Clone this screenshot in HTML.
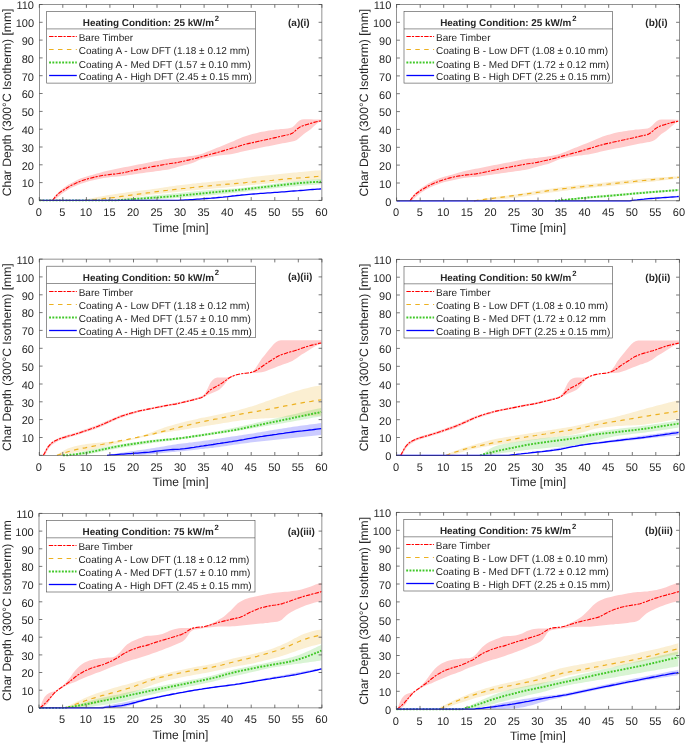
<!DOCTYPE html>
<html><head><meta charset="utf-8"><style>
html,body{margin:0;padding:0;background:#fff;}
svg{display:block;font-family:'Liberation Sans', Arial, sans-serif;text-rendering:geometricPrecision;}
</style></head><body>
<svg width="685" height="744" viewBox="0 0 685 744">
<rect width="685" height="744" fill="#fff"/>
<clipPath id="cp00"><rect x="39.3" y="4.5" width="282.6" height="195.9"/></clipPath>
<clipPath id="cl00"><rect x="38.8" y="3" width="283.6" height="198.9"/></clipPath>
<g clip-path="url(#cp00)">
<polygon points="52.2,200.4 54.5,196.7 56.9,193.7 59.2,191.5 61.6,189.5 63.9,187.7 66.3,186.1 68.6,184.6 71,183.2 73.4,181.9 75.7,180.7 78.1,179.6 80.4,178.6 82.8,177.7 85.1,177 87.5,176.2 89.8,175.6 92.2,174.9 94.5,174.3 96.9,173.6 99.3,172.9 101.6,172.2 104,171.6 106.3,171 108.7,170.4 111,169.9 113.4,169.4 115.7,169 118.1,168.5 120.5,168.1 122.8,167.6 125.2,167.1 127.5,166.7 129.9,166.2 132.2,165.7 134.6,165.3 136.9,164.8 139.3,164.3 141.6,163.9 144,163.4 146.4,162.9 148.7,162.5 151.1,162 153.4,161.6 155.8,161.1 158.1,160.7 160.5,160.2 162.8,159.8 165.2,159.3 167.6,158.9 169.9,158.5 172.3,158.2 174.6,158 177,157.8 179.3,157.6 181.7,157.3 184,157 186.4,156.7 188.7,156.3 191.1,156 193.5,155.7 195.8,155.2 198.2,154.8 200.5,154.2 202.9,153.4 205.2,152.5 207.6,151.6 209.9,150.7 212.3,149.7 214.7,148.8 217,147.8 219.4,146.9 221.7,145.9 224.1,145 226.4,144 228.8,143.1 231.1,142.1 233.5,141.2 235.8,140.1 238.2,139.1 240.6,138.1 242.9,137.1 245.3,136.2 247.6,135.4 250,134.8 252.3,134.1 254.7,133.5 257,132.9 259.4,132.3 261.8,131.8 264.1,131.4 266.5,131 268.8,130.6 271.2,130.2 273.5,129.9 275.9,129.6 278.2,129.4 280.6,129.1 282.9,128.9 285.3,128.7 287.7,128.5 290,128.1 292.4,127.2 294.7,125.2 297.1,122.6 299.4,120.6 301.8,119.6 304.1,119.3 306.5,119.3 308.9,119.3 311.2,119.3 313.6,119.4 315.9,119.4 318.3,119.4 320.6,119.5 321.1,119.5 321.1,120.8 320.4,121.4 318,122.8 315.7,124.8 313.3,126.8 311,128.9 308.6,130.7 306.3,132.2 303.9,133.9 301.6,135.9 299.2,138.1 296.8,139.9 294.5,141 292.1,141.6 289.8,142 287.4,142.4 285.1,142.9 282.7,143.3 280.4,143.8 278,144.3 275.6,144.7 273.3,145.2 270.9,145.7 268.6,146.2 266.2,146.6 263.9,147.1 261.5,147.6 259.2,148 256.8,148.5 254.5,149 252.1,149.4 249.7,149.9 247.4,150.4 245,150.9 242.7,151.5 240.3,152.1 238,152.7 235.6,153.2 233.3,153.8 230.9,154.2 228.5,154.5 226.2,154.8 223.8,155 221.5,155.3 219.1,155.6 216.8,155.9 214.4,156.3 212.1,156.8 209.7,157.3 207.4,157.7 205,158.2 202.6,158.8 200.3,159.6 197.9,160.6 195.6,161.8 193.2,162.8 190.9,163.5 188.5,164.2 186.2,164.8 183.8,165.3 181.4,165.9 179.1,166.5 176.7,167.2 174.4,167.9 172,168.6 169.7,169.2 167.3,169.7 165,170 162.6,170.3 160.3,170.7 157.9,171 155.5,171.3 153.2,171.7 150.8,172 148.5,172.3 146.1,172.6 143.8,173 141.4,173.3 139.1,173.6 136.7,174 134.3,174.3 132,174.7 129.6,175 127.3,175.3 124.9,175.7 122.6,176 120.2,176.3 117.9,176.5 115.5,176.7 113.2,176.8 110.8,177 108.4,177.4 106.1,177.7 103.7,178.1 101.4,178.6 99,179 96.7,179.5 94.3,180 92,180.6 89.6,181.1 87.2,181.7 84.9,182.4 82.5,183.2 80.2,184 77.8,184.9 75.5,185.9 73.1,187 70.8,188.1 68.4,189.5 66.1,190.9 63.7,192.4 61.3,194.2 59,196.3 56.6,198.3 54.3,200.4" fill="#ff0000" fill-opacity="0.2"/>
<polygon points="82.3,200.4 84.7,199.9 87.1,199.3 89.4,198.8 91.8,198.3 94.1,197.8 96.5,197.3 98.8,196.8 101.2,196.4 103.5,195.9 105.9,195.5 108.3,195.1 110.6,194.7 113,194.4 115.3,194 117.7,193.7 120,193.3 122.4,193 124.7,192.7 127.1,192.3 129.4,192 131.8,191.7 134.2,191.4 136.5,191.1 138.9,190.8 141.2,190.5 143.6,190.3 145.9,190 148.3,189.7 150.6,189.4 153,189 155.4,188.7 157.7,188.4 160.1,188 162.4,187.7 164.8,187.3 167.1,187 169.5,186.6 171.8,186.3 174.2,186 176.5,185.6 178.9,185.3 181.3,185 183.6,184.7 186,184.4 188.3,184.2 190.7,183.9 193,183.6 195.4,183.4 197.7,183.1 200.1,182.9 202.5,182.6 204.8,182.4 207.2,182.2 209.5,181.9 211.9,181.7 214.2,181.5 216.6,181.2 218.9,181 221.3,180.8 223.6,180.6 226,180.4 228.4,180.2 230.7,180 233.1,179.7 235.4,179.4 237.8,179.1 240.1,178.8 242.5,178.4 244.8,178.1 247.2,177.8 249.6,177.4 251.9,177.1 254.3,176.8 256.6,176.5 259,176.2 261.3,176 263.7,175.7 266,175.5 268.4,175.2 270.7,175 273.1,174.7 275.5,174.5 277.8,174.3 280.2,174 282.5,173.8 284.9,173.5 287.2,173.3 289.6,173.1 291.9,172.8 294.3,172.6 296.7,172.4 299,172.1 301.4,171.9 303.7,171.7 306.1,171.4 308.4,171.2 310.8,171 313.1,170.8 315.5,170.6 317.8,170.5 320.2,170.3 321.1,170.2 321.1,179.2 319.9,179.4 317.5,179.6 315.2,179.8 312.8,179.9 310.5,180.1 308.1,180.3 305.7,180.5 303.4,180.7 301,180.8 298.7,181 296.3,181.2 294,181.4 291.6,181.6 289.3,181.8 286.9,182 284.5,182.1 282.2,182.3 279.8,182.5 277.5,182.7 275.1,182.9 272.8,183.1 270.4,183.3 268.1,183.5 265.7,183.7 263.4,183.9 261,184.2 258.6,184.4 256.3,184.6 253.9,184.9 251.6,185.1 249.2,185.3 246.9,185.5 244.5,185.7 242.2,185.9 239.8,186.1 237.4,186.3 235.1,186.5 232.7,186.7 230.4,187 228,187.2 225.7,187.4 223.3,187.7 221,187.9 218.6,188.1 216.3,188.3 213.9,188.6 211.5,188.8 209.2,189 206.8,189.2 204.5,189.4 202.1,189.6 199.8,189.8 197.4,190 195.1,190.2 192.7,190.4 190.3,190.6 188,190.8 185.6,191.1 183.3,191.3 180.9,191.5 178.6,191.8 176.2,192 173.9,192.2 171.5,192.5 169.2,192.7 166.8,192.9 164.4,193.2 162.1,193.4 159.7,193.7 157.4,193.9 155,194.2 152.7,194.5 150.3,194.8 148,195.2 145.6,195.6 143.2,196 140.9,196.5 138.5,197 136.2,197.4 133.8,197.8 131.5,198.2 129.1,198.5 126.8,198.7 124.4,198.9 122.1,199.1 119.7,199.3 117.3,199.5 115,199.6 112.6,199.8 110.3,199.9 107.9,200.1 105.6,200.2 103.2,200.4" fill="#edb120" fill-opacity="0.2"/>
<polygon points="111.3,200.4 113.6,200.2 116,199.9 118.3,199.7 120.7,199.4 123,199.1 125.4,198.9 127.8,198.6 130.1,198.3 132.5,198.1 134.8,197.8 137.2,197.5 139.5,197.2 141.9,196.9 144.2,196.6 146.6,196.3 148.9,196.1 151.3,195.8 153.7,195.5 156,195.3 158.4,195.1 160.7,194.8 163.1,194.6 165.4,194.4 167.8,194.1 170.1,193.9 172.5,193.6 174.9,193.4 177.2,193.2 179.6,192.9 181.9,192.7 184.3,192.5 186.6,192.2 189,192 191.3,191.8 193.7,191.5 196,191.3 198.4,191.1 200.8,190.8 203.1,190.6 205.5,190.4 207.8,190.2 210.2,189.9 212.5,189.8 214.9,189.6 217.2,189.4 219.6,189.3 222,189.1 224.3,189 226.7,188.9 229,188.8 231.4,188.7 233.7,188.6 236.1,188.4 238.4,188.2 240.8,188 243.1,187.7 245.5,187.4 247.9,187.2 250.2,186.9 252.6,186.6 254.9,186.3 257.3,186 259.6,185.7 262,185.4 264.3,185.1 266.7,184.8 269.1,184.5 271.4,184.2 273.8,183.9 276.1,183.6 278.5,183.3 280.8,183 283.2,182.7 285.5,182.4 287.9,182.1 290.2,181.9 292.6,181.6 295,181.3 297.3,181.1 299.7,180.8 302,180.6 304.4,180.4 306.7,180.1 309.1,179.9 311.4,179.7 313.8,179.5 316.2,179.3 318.5,179.1 320.9,178.9 321.1,178.8 321.1,184.3 319.7,184.5 317.3,184.6 315,184.7 312.6,184.9 310.3,185 307.9,185.2 305.6,185.4 303.2,185.6 300.8,185.8 298.5,186 296.1,186.2 293.8,186.4 291.4,186.6 289.1,186.8 286.7,187.1 284.4,187.3 282,187.5 279.7,187.8 277.3,188 274.9,188.3 272.6,188.5 270.2,188.7 267.9,189 265.5,189.2 263.2,189.5 260.8,189.7 258.5,190 256.1,190.3 253.7,190.6 251.4,190.8 249,191.1 246.7,191.4 244.3,191.7 242,191.9 239.6,192.2 237.3,192.4 234.9,192.7 232.6,193 230.2,193.2 227.8,193.5 225.5,193.7 223.1,194 220.8,194.2 218.4,194.5 216.1,194.7 213.7,195 211.4,195.2 209,195.4 206.6,195.6 204.3,195.8 201.9,196 199.6,196.2 197.2,196.4 194.9,196.6 192.5,196.8 190.2,197 187.8,197.1 185.5,197.3 183.1,197.5 180.7,197.7 178.4,197.9 176,198 173.7,198.2 171.3,198.4 169,198.6 166.6,198.7 164.3,198.9 161.9,199.1 159.5,199.3 157.2,199.4 154.8,199.6 152.5,199.8 150.1,199.9 147.8,200 145.4,200.4 143.1,200.4 140.7,200.4 138.4,200.4 136,200.4 133.6,200.4 131.3,200.4 128.9,200.4" fill="#40c828" fill-opacity="0.2"/>
</g>
<g clip-path="url(#cl00)">
<polyline points="52.6,200.4 55,197.2 57.3,194.6 59.7,192.6 62,190.9 64.4,189.5 66.8,188 69.1,186.6 71.5,185.3 73.8,184.2 76.2,183.1 78.5,182.1 80.9,181.1 83.2,180.3 85.6,179.5 88,178.8 90.3,178.2 92.7,177.6 95,177 97.4,176.5 99.7,176 102.1,175.5 104.4,175.2 106.8,174.9 109.1,174.6 111.5,174.3 113.9,174.1 116.2,173.8 118.6,173.5 120.9,173.1 123.3,172.7 125.6,172.2 128,171.7 130.3,171.1 132.7,170.6 135.1,170.1 137.4,169.6 139.8,169.1 142.1,168.6 144.5,168.1 146.8,167.7 149.2,167.2 151.5,166.8 153.9,166.4 156.2,166 158.6,165.6 161,165.1 163.3,164.7 165.7,164.3 168,163.9 170.4,163.5 172.7,163.2 175.1,162.9 177.4,162.5 179.8,162 182.2,161.5 184.5,161 186.9,160.4 189.2,159.9 191.6,159.3 193.9,158.8 196.3,158.2 198.6,157.6 201,156.9 203.3,156.3 205.7,155.6 208.1,155 210.4,154.3 212.8,153.7 215.1,153.1 217.5,152.5 219.8,151.8 222.2,151.1 224.5,150.4 226.9,149.7 229.3,149 231.6,148.3 234,147.7 236.3,147 238.7,146.2 241,145.5 243.4,144.8 245.7,144.2 248.1,143.6 250.4,143.1 252.8,142.6 255.2,142.1 257.5,141.5 259.9,141 262.2,140.5 264.6,140 266.9,139.5 269.3,139 271.6,138.4 274,137.9 276.4,137.4 278.7,136.8 281.1,136.3 283.4,135.7 285.8,135.2 288.1,134.7 290.5,134.1 292.8,132.9 295.2,130.9 297.5,128.8 299.9,127.1 302.3,126 304.6,125.2 307,124.5 309.3,123.8 311.7,123.1 314,122.4 316.4,121.8 318.7,121.3 321.1,120.8" fill="none" stroke="#ff0000" stroke-width="1.1" stroke-dasharray="4.4 1.1 2.2 1.2" stroke-linejoin="round"/>
<polyline points="39.3,200.4 41.7,200.4 44,200.4 46.4,200.4 48.7,200.4 51.1,200.4 53.4,200.4 55.8,200.4 58.1,200.4 60.5,200.4 62.8,200.4 65.2,200.4 67.6,200.4 69.9,200.4 72.3,200.4 74.6,200.4 77,200.4 79.3,200.4 81.7,200.4 84,200.4 86.4,200.4 88.8,199.9 91.1,199.8 93.5,199.6 95.8,199.4 98.2,199.1 100.5,198.9 102.9,198.7 105.2,198.4 107.6,198.1 109.9,197.8 112.3,197.6 114.7,197.3 117,196.9 119.4,196.6 121.7,196.3 124.1,196 126.4,195.7 128.8,195.4 131.1,195.1 133.5,194.8 135.9,194.4 138.2,194.1 140.6,193.8 142.9,193.5 145.3,193.2 147.6,192.9 150,192.6 152.3,192.2 154.7,191.9 157,191.6 159.4,191.3 161.8,191 164.1,190.7 166.5,190.5 168.8,190.2 171.2,189.9 173.5,189.6 175.9,189.3 178.2,189.1 180.6,188.8 183,188.5 185.3,188.3 187.7,188 190,187.8 192.4,187.5 194.7,187.3 197.1,187 199.4,186.8 201.8,186.5 204.1,186.3 206.5,186.1 208.9,185.9 211.2,185.6 213.6,185.4 215.9,185.2 218.3,185 220.6,184.8 223,184.6 225.3,184.4 227.7,184.2 230.1,184 232.4,183.8 234.8,183.6 237.1,183.4 239.5,183.2 241.8,183 244.2,182.8 246.5,182.5 248.9,182.4 251.2,182.2 253.6,182 256,181.8 258.3,181.6 260.7,181.4 263,181.2 265.4,181 267.7,180.7 270.1,180.5 272.4,180.3 274.8,180 277.2,179.8 279.5,179.6 281.9,179.4 284.2,179.2 286.6,178.9 288.9,178.7 291.3,178.6 293.6,178.4 296,178.2 298.3,178 300.7,177.8 303.1,177.6 305.4,177.5 307.8,177.3 310.1,177.1 312.5,176.9 314.8,176.7 317.2,176.5 319.5,176.3 321.1,176.1" fill="none" stroke="#edb120" stroke-width="1.2" stroke-dasharray="4.5 4.4" stroke-linejoin="round"/>
<polyline points="39.3,200.4 41.7,200.4 44,200.4 46.4,200.4 48.7,200.4 51.1,200.4 53.4,200.4 55.8,200.4 58.1,200.4 60.5,200.4 62.8,200.4 65.2,200.4 67.6,200.4 69.9,200.4 72.3,200.4 74.6,200.4 77,200.4 79.3,200.4 81.7,200.4 84,200.4 86.4,200.4 88.8,200.4 91.1,200.4 93.5,200.4 95.8,200.4 98.2,200.4 100.5,200.4 102.9,200.4 105.2,200.4 107.6,200.4 109.9,200.4 112.3,200.4 114.7,200.4 117,200.3 119.4,200 121.7,199.9 124.1,199.7 126.4,199.6 128.8,199.4 131.1,199.2 133.5,199.1 135.9,198.9 138.2,198.7 140.6,198.6 142.9,198.4 145.3,198.3 147.6,198.1 150,198 152.3,197.8 154.7,197.6 157,197.5 159.4,197.3 161.8,197.1 164.1,196.9 166.5,196.7 168.8,196.6 171.2,196.4 173.5,196.2 175.9,196 178.2,195.8 180.6,195.5 183,195.3 185.3,195.1 187.7,194.9 190,194.6 192.4,194.4 194.7,194.2 197.1,193.9 199.4,193.7 201.8,193.4 204.1,193.2 206.5,193 208.9,192.7 211.2,192.5 213.6,192.3 215.9,192.1 218.3,191.8 220.6,191.6 223,191.4 225.3,191.2 227.7,191 230.1,190.8 232.4,190.6 234.8,190.3 237.1,190.1 239.5,189.8 241.8,189.6 244.2,189.3 246.5,189 248.9,188.7 251.2,188.5 253.6,188.2 256,187.9 258.3,187.6 260.7,187.4 263,187.1 265.4,186.9 267.7,186.6 270.1,186.4 272.4,186.1 274.8,185.8 277.2,185.5 279.5,185.3 281.9,185 284.2,184.7 286.6,184.4 288.9,184.2 291.3,183.9 293.6,183.7 296,183.5 298.3,183.2 300.7,183 303.1,182.8 305.4,182.6 307.8,182.5 310.1,182.3 312.5,182.1 314.8,182 317.2,181.9 319.5,181.7 321.1,181.6" fill="none" stroke="#40c828" stroke-width="1.9" stroke-dasharray="1.9 1.37" stroke-linejoin="round"/>
<polyline points="39.3,200.4 41.7,200.4 44,200.4 46.4,200.4 48.7,200.4 51.1,200.4 53.4,200.4 55.8,200.4 58.1,200.4 60.5,200.4 62.8,200.4 65.2,200.4 67.6,200.4 69.9,200.4 72.3,200.4 74.6,200.4 77,200.4 79.3,200.4 81.7,200.4 84,200.4 86.4,200.4 88.8,200.4 91.1,200.4 93.5,200.4 95.8,200.4 98.2,200.4 100.5,200.4 102.9,200.4 105.2,200.4 107.6,200.4 109.9,200.4 112.3,200.4 114.7,200.4 117,200.4 119.4,200.4 121.7,200.4 124.1,200.4 126.4,200.4 128.8,200.4 131.1,200.4 133.5,200.4 135.9,200.4 138.2,200.4 140.6,200.4 142.9,200.4 145.3,200.4 147.6,200.4 150,200.4 152.3,200.4 154.7,200.4 157,200.4 159.4,200.4 161.8,200.4 164.1,200.4 166.5,200.4 168.8,200.4 171.2,200.4 173.5,200.4 175.9,200.4 178.2,200.3 180.6,200.1 183,200.1 185.3,199.9 187.7,199.8 190,199.7 192.4,199.6 194.7,199.4 197.1,199.2 199.4,199.1 201.8,198.9 204.1,198.7 206.5,198.5 208.9,198.3 211.2,198.2 213.6,198 215.9,197.8 218.3,197.5 220.6,197.3 223,197.1 225.3,196.8 227.7,196.6 230.1,196.3 232.4,196 234.8,195.8 237.1,195.5 239.5,195.3 241.8,195 244.2,194.8 246.5,194.6 248.9,194.4 251.2,194.2 253.6,194 256,193.8 258.3,193.6 260.7,193.4 263,193.3 265.4,193.1 267.7,192.9 270.1,192.8 272.4,192.6 274.8,192.4 277.2,192.3 279.5,192.1 281.9,191.9 284.2,191.8 286.6,191.6 288.9,191.4 291.3,191.2 293.6,191 296,190.8 298.3,190.7 300.7,190.5 303.1,190.3 305.4,190.1 307.8,189.9 310.1,189.7 312.5,189.5 314.8,189.4 317.2,189.2 319.5,189 321.1,188.8" fill="none" stroke="#0000ff" stroke-width="1.3" stroke-linejoin="round"/>
</g>
<rect x="39.3" y="4.5" width="282.6" height="195.9" fill="none" stroke="#4a4a4a" stroke-width="0.6"/>
<path d="M39.3 200.4v-3.3M39.3 4.5v3.3M62.8 200.4v-3.3M62.8 4.5v3.3M86.4 200.4v-3.3M86.4 4.5v3.3M109.9 200.4v-3.3M109.9 4.5v3.3M133.5 200.4v-3.3M133.5 4.5v3.3M157 200.4v-3.3M157 4.5v3.3M180.6 200.4v-3.3M180.6 4.5v3.3M204.1 200.4v-3.3M204.1 4.5v3.3M227.7 200.4v-3.3M227.7 4.5v3.3M251.2 200.4v-3.3M251.2 4.5v3.3M274.8 200.4v-3.3M274.8 4.5v3.3M298.3 200.4v-3.3M298.3 4.5v3.3M321.9 200.4v-3.3M321.9 4.5v3.3M39.3 200.4h3.3M321.9 200.4h-3.3M39.3 182.6h3.3M321.9 182.6h-3.3M39.3 164.8h3.3M321.9 164.8h-3.3M39.3 147h3.3M321.9 147h-3.3M39.3 129.2h3.3M321.9 129.2h-3.3M39.3 111.4h3.3M321.9 111.4h-3.3M39.3 93.5h3.3M321.9 93.5h-3.3M39.3 75.7h3.3M321.9 75.7h-3.3M39.3 57.9h3.3M321.9 57.9h-3.3M39.3 40.1h3.3M321.9 40.1h-3.3M39.3 22.3h3.3M321.9 22.3h-3.3M39.3 4.5h3.3M321.9 4.5h-3.3" stroke="#4a4a4a" stroke-width="0.75" fill="none"/>
<g font-size="11" fill="#262626" text-anchor="middle">
<text x="38.8" y="215.9">0</text>
<text x="62.3" y="215.9">5</text>
<text x="85.9" y="215.9">10</text>
<text x="109.4" y="215.9">15</text>
<text x="133" y="215.9">20</text>
<text x="156.5" y="215.9">25</text>
<text x="180.1" y="215.9">30</text>
<text x="203.6" y="215.9">35</text>
<text x="227.2" y="215.9">40</text>
<text x="250.7" y="215.9">45</text>
<text x="274.3" y="215.9">50</text>
<text x="297.8" y="215.9">55</text>
<text x="321.4" y="215.9">60</text>
</g>
<g font-size="11" fill="#262626" text-anchor="end">
<text x="34" y="205.2">0</text>
<text x="34" y="187.4">10</text>
<text x="34" y="169.6">20</text>
<text x="34" y="151.8">30</text>
<text x="34" y="134">40</text>
<text x="34" y="116.2">50</text>
<text x="34" y="98.3">60</text>
<text x="34" y="80.5">70</text>
<text x="34" y="62.7">80</text>
<text x="34" y="44.9">90</text>
<text x="34" y="27.1">100</text>
<text x="34" y="9.3">110</text>
</g>
<text x="180.6" y="231.5" font-size="12.1" fill="#262626" text-anchor="middle">Time [min]</text>
<text transform="translate(10.9,102.5) rotate(-90)" font-size="12.1" fill="#262626" text-anchor="middle">Char Depth (300°C Isotherm) [mm]</text>
<text x="288" y="25.8" font-size="10" font-weight="bold" fill="#262626">(a)(i)</text>
<rect x="46.7" y="11.6" width="208.6" height="71.5" fill="#fff" stroke="#4a4a4a" stroke-width="0.6"/>
<path d="M46.7 28.9H255.3" stroke="#4a4a4a" stroke-width="0.6"/>
<text x="151" y="26.3" font-size="9.9" font-weight="bold" fill="#262626" text-anchor="middle">Heating Condition: 25 kW/m<tspan font-size="7.7" dx="0.9" dy="-5.6">2</tspan></text>
<path d="M49.1 36.5H76.8" stroke="#ff0000" stroke-width="1.1" stroke-dasharray="4.4 1.1 2.2 1.2"/>
<text x="78.7" y="41.3" font-size="10" fill="#262626">Bare Timber</text>
<path d="M49.1 49.5H76.8" stroke="#edb120" stroke-width="1.2" stroke-dasharray="4.5 4.4"/>
<text x="78.7" y="54.4" font-size="10" fill="#262626">Coating A - Low DFT (1.18 ± 0.12 mm)</text>
<path d="M49.1 62.5H76.8" stroke="#40c828" stroke-width="1.9" stroke-dasharray="1.9 1.37"/>
<text x="78.7" y="67.5" font-size="10" fill="#262626">Coating A - Med DFT (1.57 ± 0.10 mm)</text>
<path d="M49.1 75.5H76.8" stroke="#0000ff" stroke-width="1.3"/>
<text x="78.7" y="80.4" font-size="10" fill="#262626">Coating A - High DFT (2.45 ± 0.15 mm)</text>
<clipPath id="cp01"><rect x="396.6" y="4.5" width="282.8" height="196.3"/></clipPath>
<clipPath id="cl01"><rect x="396.1" y="3" width="283.8" height="199.3"/></clipPath>
<g clip-path="url(#cp01)">
<polygon points="409.5,200.8 411.8,197 414.2,194.1 416.5,191.9 418.9,189.9 421.3,188.1 423.6,186.5 426,185 428.3,183.6 430.7,182.3 433,181.1 435.4,179.9 437.7,179 440.1,178.1 442.5,177.3 444.8,176.6 447.2,175.9 449.5,175.3 451.9,174.7 454.2,174 456.6,173.3 459,172.6 461.3,171.9 463.7,171.3 466,170.8 468.4,170.3 470.7,169.8 473.1,169.3 475.5,168.8 477.8,168.4 480.2,167.9 482.5,167.5 484.9,167 487.2,166.5 489.6,166.1 492,165.6 494.3,165.1 496.7,164.7 499,164.2 501.4,163.7 503.7,163.3 506.1,162.8 508.4,162.4 510.8,161.9 513.2,161.5 515.5,161 517.9,160.5 520.2,160.1 522.6,159.6 524.9,159.2 527.3,158.8 529.7,158.6 532,158.4 534.4,158.1 536.7,157.9 539.1,157.6 541.4,157.3 543.8,157 546.2,156.7 548.5,156.3 550.9,156 553.2,155.5 555.6,155.1 557.9,154.5 560.3,153.7 562.7,152.8 565,151.9 567.4,151 569.7,150 572.1,149.1 574.4,148.1 576.8,147.2 579.1,146.2 581.5,145.3 583.9,144.3 586.2,143.4 588.6,142.4 590.9,141.4 593.3,140.4 595.6,139.4 598,138.4 600.4,137.4 602.7,136.5 605.1,135.7 607.4,135 609.8,134.4 612.1,133.7 614.5,133.1 616.9,132.6 619.2,132.1 621.6,131.7 623.9,131.3 626.3,130.9 628.6,130.5 631,130.2 633.4,129.9 635.7,129.6 638.1,129.4 640.4,129.2 642.8,128.9 645.1,128.7 647.5,128.4 649.8,127.4 652.2,125.4 654.6,122.9 656.9,120.9 659.3,119.8 661.6,119.5 664,119.5 666.3,119.5 668.7,119.6 671.1,119.6 673.4,119.6 675.8,119.7 678.1,119.7 678.6,119.7 678.6,121.1 677.9,121.7 675.5,123.1 673.2,125 670.8,127.1 668.5,129.1 666.1,130.9 663.8,132.4 661.4,134.1 659,136.2 656.7,138.4 654.3,140.2 652,141.3 649.6,141.9 647.3,142.3 644.9,142.7 642.5,143.2 640.2,143.6 637.8,144.1 635.5,144.6 633.1,145 630.8,145.5 628.4,146 626,146.4 623.7,146.9 621.3,147.4 619,147.9 616.6,148.3 614.3,148.8 611.9,149.3 609.5,149.7 607.2,150.2 604.8,150.7 602.5,151.2 600.1,151.8 597.8,152.4 595.4,153 593.1,153.5 590.7,154.1 588.3,154.5 586,154.8 583.6,155.1 581.3,155.4 578.9,155.6 576.6,155.9 574.2,156.2 571.8,156.7 569.5,157.1 567.1,157.6 564.8,158.1 562.4,158.5 560.1,159.1 557.7,159.9 555.3,160.9 553,162.1 550.6,163.1 548.3,163.9 545.9,164.5 543.6,165.1 541.2,165.7 538.8,166.3 536.5,166.9 534.1,167.5 531.8,168.2 529.4,169 527.1,169.6 524.7,170 522.4,170.3 520,170.7 517.6,171 515.3,171.3 512.9,171.7 510.6,172 508.2,172.3 505.9,172.7 503.5,173 501.1,173.3 498.8,173.7 496.4,174 494.1,174.3 491.7,174.7 489.4,175 487,175.3 484.6,175.7 482.3,176 479.9,176.4 477.6,176.7 475.2,176.9 472.9,177 470.5,177.2 468.1,177.4 465.8,177.7 463.4,178.1 461.1,178.5 458.7,178.9 456.4,179.4 454,179.9 451.7,180.4 449.3,180.9 446.9,181.5 444.6,182.1 442.2,182.8 439.9,183.6 437.5,184.4 435.2,185.3 432.8,186.3 430.4,187.3 428.1,188.5 425.7,189.8 423.4,191.3 421,192.8 418.7,194.6 416.3,196.6 413.9,198.7 411.6,200.8" fill="#ff0000" fill-opacity="0.2"/>
<polygon points="470,200.8 472.3,200.4 474.7,200 477.1,199.7 479.4,199.3 481.8,198.9 484.1,198.6 486.5,198.2 488.8,197.9 491.2,197.6 493.6,197.2 495.9,196.9 498.3,196.6 500.6,196.3 503,196 505.3,195.7 507.7,195.4 510,195.1 512.4,194.8 514.8,194.5 517.1,194.2 519.5,193.8 521.8,193.5 524.2,193.1 526.5,192.6 528.9,192.2 531.3,191.7 533.6,191.3 536,190.8 538.3,190.4 540.7,190.1 543,189.7 545.4,189.4 547.8,189 550.1,188.7 552.5,188.4 554.8,188.1 557.2,187.7 559.5,187.4 561.9,187.1 564.3,186.8 566.6,186.5 569,186.2 571.3,185.9 573.7,185.6 576,185.4 578.4,185.1 580.7,184.8 583.1,184.6 585.5,184.4 587.8,184.1 590.2,183.9 592.5,183.6 594.9,183.4 597.2,183.2 599.6,182.9 602,182.7 604.3,182.5 606.7,182.2 609,182 611.4,181.8 613.7,181.5 616.1,181.3 618.5,181.1 620.8,180.8 623.2,180.6 625.5,180.3 627.9,180.1 630.2,179.9 632.6,179.6 635,179.4 637.3,179.2 639.7,178.9 642,178.7 644.4,178.5 646.7,178.3 649.1,178.1 651.4,177.9 653.8,177.7 656.2,177.5 658.5,177.4 660.9,177.2 663.2,177.1 665.6,177 667.9,176.9 670.3,176.7 672.7,176.6 675,176.5 677.4,176.4 678.8,176.3 678.8,178.5 677.9,178.7 675.6,179 673.2,179.2 670.9,179.5 668.5,179.8 666.2,180 663.8,180.3 661.4,180.6 659.1,180.9 656.7,181.1 654.4,181.4 652,181.7 649.7,181.9 647.3,182.1 644.9,182.4 642.6,182.6 640.2,182.9 637.9,183.1 635.5,183.3 633.2,183.6 630.8,183.8 628.4,184.1 626.1,184.3 623.7,184.5 621.4,184.8 619,185 616.7,185.2 614.3,185.5 612,185.7 609.6,185.9 607.2,186.2 604.9,186.4 602.5,186.6 600.2,186.9 597.8,187.1 595.5,187.3 593.1,187.6 590.7,187.8 588.4,188.1 586,188.3 583.7,188.5 581.3,188.8 579,189 576.6,189.3 574.2,189.6 571.9,189.8 569.5,190.1 567.2,190.4 564.8,190.7 562.5,191 560.1,191.3 557.7,191.7 555.4,192 553,192.3 550.7,192.6 548.3,192.9 546,193.3 543.6,193.6 541.3,193.9 538.9,194.3 536.5,194.6 534.2,195 531.8,195.3 529.5,195.7 527.1,196.1 524.8,196.4 522.4,196.8 520,197.1 517.7,197.4 515.3,197.7 513,198 510.6,198.3 508.3,198.6 505.9,198.8 503.5,199.1 501.2,199.3 498.8,199.5 496.5,199.6 494.1,199.8 491.8,200 489.4,200.1 487,200.3 484.7,200.5 482.3,200.6 480,200.8" fill="#edb120" fill-opacity="0.2"/>
<polygon points="553,200.8 555.3,200.5 557.7,200.1 560.1,199.8 562.4,199.5 564.8,199.2 567.1,198.9 569.5,198.6 571.8,198.3 574.2,198 576.6,197.7 578.9,197.4 581.3,197.2 583.6,197 586,196.7 588.3,196.5 590.7,196.3 593.1,196.1 595.4,195.8 597.8,195.6 600.1,195.4 602.5,195.2 604.8,195 607.2,194.8 609.5,194.6 611.9,194.4 614.3,194.2 616.6,194 619,193.8 621.3,193.6 623.7,193.3 626,193.1 628.4,192.9 630.8,192.7 633.1,192.4 635.5,192.2 637.8,192 640.2,191.8 642.5,191.6 644.9,191.5 647.3,191.3 649.6,191.1 652,190.9 654.3,190.7 656.7,190.6 659,190.4 661.4,190.2 663.8,190 666.1,189.9 668.5,189.7 670.8,189.5 673.2,189.4 675.5,189.2 677.9,189.1 678.8,189 678.8,190.9 678.5,191 676.1,191.2 673.7,191.4 671.4,191.6 669,191.8 666.7,192 664.3,192.2 662,192.4 659.6,192.6 657.2,192.8 654.9,193 652.5,193.2 650.2,193.4 647.8,193.6 645.5,193.8 643.1,194 640.8,194.2 638.4,194.4 636,194.6 633.7,194.8 631.3,195 629,195.2 626.6,195.5 624.3,195.7 621.9,195.9 619.5,196.1 617.2,196.3 614.8,196.5 612.5,196.7 610.1,196.9 607.8,197.1 605.4,197.2 603,197.4 600.7,197.6 598.3,197.7 596,197.9 593.6,198.1 591.3,198.3 588.9,198.5 586.5,198.7 584.2,198.9 581.8,199.1 579.5,199.3 577.1,199.6 574.8,199.8 572.4,200 570.1,200.2 567.7,200.4 565.3,200.6 563,200.8" fill="#40c828" fill-opacity="0.2"/>
</g>
<g clip-path="url(#cl01)">
<polyline points="409.9,200.8 412.3,197.6 414.7,195 417,193 419.4,191.3 421.7,189.8 424.1,188.4 426.4,187 428.8,185.7 431.1,184.5 433.5,183.4 435.9,182.4 438.2,181.5 440.6,180.7 442.9,179.9 445.3,179.2 447.6,178.5 450,177.9 452.4,177.3 454.7,176.8 457.1,176.3 459.4,175.9 461.8,175.5 464.1,175.2 466.5,174.9 468.9,174.7 471.2,174.4 473.6,174.1 475.9,173.9 478.3,173.5 480.6,173 483,172.5 485.4,172 487.7,171.5 490.1,171 492.4,170.5 494.8,170 497.1,169.5 499.5,169 501.8,168.5 504.2,168 506.6,167.6 508.9,167.2 511.3,166.7 513.6,166.3 516,165.9 518.3,165.5 520.7,165 523.1,164.6 525.4,164.2 527.8,163.8 530.1,163.5 532.5,163.2 534.8,162.8 537.2,162.4 539.6,161.8 541.9,161.3 544.3,160.7 546.6,160.2 549,159.7 551.3,159.1 553.7,158.5 556.1,157.9 558.4,157.2 560.8,156.6 563.1,155.9 565.5,155.3 567.8,154.7 570.2,154 572.5,153.4 574.9,152.8 577.3,152.1 579.6,151.4 582,150.7 584.3,150 586.7,149.3 589,148.6 591.4,148 593.8,147.2 596.1,146.5 598.5,145.8 600.8,145.1 603.2,144.5 605.5,143.9 607.9,143.4 610.3,142.9 612.6,142.3 615,141.8 617.3,141.3 619.7,140.8 622,140.3 624.4,139.8 626.8,139.2 629.1,138.7 631.5,138.2 633.8,137.7 636.2,137.1 638.5,136.6 640.9,136 643.2,135.5 645.6,135 648,134.4 650.3,133.1 652.7,131.1 655,129 657.4,127.4 659.7,126.2 662.1,125.4 664.5,124.7 666.8,124 669.2,123.3 671.5,122.6 673.9,122.1 676.2,121.6 678.6,121.1" fill="none" stroke="#ff0000" stroke-width="1.1" stroke-dasharray="4.4 1.1 2.2 1.2" stroke-linejoin="round"/>
<polyline points="474,200.8 476.3,200.5 478.7,200.1 481.1,199.8 483.4,199.5 485.8,199.2 488.1,198.9 490.5,198.6 492.8,198.3 495.2,198 497.6,197.7 499.9,197.4 502.3,197.1 504.6,196.8 507,196.5 509.3,196.1 511.7,195.8 514.1,195.5 516.4,195.2 518.8,194.9 521.1,194.6 523.5,194.3 525.8,194 528.2,193.6 530.6,193.3 532.9,193 535.3,192.6 537.6,192.3 540,192 542.3,191.6 544.7,191.3 547,190.9 549.4,190.6 551.8,190.3 554.1,189.9 556.5,189.6 558.8,189.3 561.2,189 563.5,188.7 565.9,188.5 568.3,188.2 570.6,187.9 573,187.7 575.3,187.4 577.7,187.2 580,186.9 582.4,186.7 584.8,186.4 587.1,186.2 589.5,185.9 591.8,185.7 594.2,185.5 596.5,185.2 598.9,185 601.3,184.8 603.6,184.5 606,184.3 608.3,184.1 610.7,183.8 613,183.6 615.4,183.4 617.7,183.1 620.1,182.9 622.5,182.7 624.8,182.4 627.2,182.2 629.5,181.9 631.9,181.7 634.2,181.5 636.6,181.2 639,181 641.3,180.8 643.7,180.5 646,180.3 648.4,180.1 650.7,179.8 653.1,179.6 655.5,179.4 657.8,179.2 660.2,179 662.5,178.8 664.9,178.5 667.2,178.3 669.6,178.1 672,177.9 674.3,177.7 676.7,177.5 678.8,177.3" fill="none" stroke="#edb120" stroke-width="1.2" stroke-dasharray="4.5 4.4" stroke-linejoin="round"/>
<polyline points="555,200.8 557.4,200.6 559.7,200.3 562.1,200.1 564.4,199.9 566.8,199.6 569.2,199.4 571.5,199.1 573.9,198.9 576.2,198.7 578.6,198.4 580.9,198.2 583.3,198 585.7,197.8 588,197.5 590.4,197.3 592.7,197.1 595.1,196.9 597.4,196.7 599.8,196.5 602.1,196.4 604.5,196.2 606.9,196 609.2,195.8 611.6,195.6 613.9,195.4 616.3,195.2 618.6,195 621,194.8 623.4,194.6 625.7,194.3 628.1,194.1 630.4,193.9 632.8,193.7 635.1,193.5 637.5,193.3 639.9,193.1 642.2,192.9 644.6,192.7 646.9,192.5 649.3,192.3 651.6,192.1 654,191.9 656.4,191.7 658.7,191.5 661.1,191.4 663.4,191.2 665.8,191 668.1,190.8 670.5,190.6 672.8,190.5 675.2,190.3 677.6,190.1 678.8,189.9" fill="none" stroke="#40c828" stroke-width="1.9" stroke-dasharray="1.9 1.37" stroke-linejoin="round"/>
<polyline points="396.6,200.8 399,200.8 401.3,200.8 403.7,200.8 406,200.8 408.4,200.8 410.7,200.8 413.1,200.8 415.5,200.8 417.8,200.8 420.2,200.8 422.5,200.8 424.9,200.8 427.2,200.8 429.6,200.8 432,200.8 434.3,200.8 436.7,200.8 439,200.8 441.4,200.8 443.7,200.8 446.1,200.8 448.4,200.8 450.8,200.8 453.2,200.8 455.5,200.8 457.9,200.8 460.2,200.8 462.6,200.8 464.9,200.8 467.3,200.8 469.7,200.8 472,200.8 474.4,200.8 476.7,200.8 479.1,200.8 481.4,200.8 483.8,200.8 486.2,200.8 488.5,200.8 490.9,200.8 493.2,200.8 495.6,200.8 497.9,200.8 500.3,200.8 502.6,200.8 505,200.8 507.4,200.8 509.7,200.8 512.1,200.8 514.4,200.8 516.8,200.8 519.1,200.8 521.5,200.8 523.9,200.8 526.2,200.8 528.6,200.8 530.9,200.8 533.3,200.8 535.6,200.8 538,200.8 540.4,200.8 542.7,200.8 545.1,200.8 547.4,200.8 549.8,200.8 552.1,200.8 554.5,200.8 556.9,200.8 559.2,200.8 561.6,200.8 563.9,200.8 566.3,200.8 568.6,200.8 571,200.8 573.4,200.8 575.7,200.8 578.1,200.8 580.4,200.8 582.8,200.8 585.1,200.8 587.5,200.8 589.8,200.8 592.2,200.8 594.6,200.8 596.9,200.8 599.3,200.8 601.6,200.8 604,200.8 606.3,200.8 608.7,200.8 611.1,200.8 613.4,200.8 615.8,200.8 618.1,200.8 620.5,200.8 622.8,200.8 625.2,200.8 627.6,200.8 629.9,200.8 632.3,200.3 634.6,200.1 637,199.9 639.3,199.6 641.7,199.4 644,199.2 646.4,198.9 648.8,198.7 651.1,198.5 653.5,198.4 655.8,198.2 658.2,198 660.5,197.9 662.9,197.7 665.3,197.5 667.6,197.4 670,197.2 672.3,197 674.7,196.9 677,196.7 678.8,196.5" fill="none" stroke="#0000ff" stroke-width="1.3" stroke-linejoin="round"/>
</g>
<rect x="396.6" y="4.5" width="282.8" height="196.3" fill="none" stroke="#4a4a4a" stroke-width="0.6"/>
<path d="M396.6 200.8v-3.3M396.6 4.5v3.3M420.2 200.8v-3.3M420.2 4.5v3.3M443.7 200.8v-3.3M443.7 4.5v3.3M467.3 200.8v-3.3M467.3 4.5v3.3M490.9 200.8v-3.3M490.9 4.5v3.3M514.4 200.8v-3.3M514.4 4.5v3.3M538 200.8v-3.3M538 4.5v3.3M561.6 200.8v-3.3M561.6 4.5v3.3M585.1 200.8v-3.3M585.1 4.5v3.3M608.7 200.8v-3.3M608.7 4.5v3.3M632.3 200.8v-3.3M632.3 4.5v3.3M655.8 200.8v-3.3M655.8 4.5v3.3M679.4 200.8v-3.3M679.4 4.5v3.3M396.6 200.8h3.3M679.4 200.8h-3.3M396.6 183h3.3M679.4 183h-3.3M396.6 165.1h3.3M679.4 165.1h-3.3M396.6 147.3h3.3M679.4 147.3h-3.3M396.6 129.4h3.3M679.4 129.4h-3.3M396.6 111.6h3.3M679.4 111.6h-3.3M396.6 93.7h3.3M679.4 93.7h-3.3M396.6 75.9h3.3M679.4 75.9h-3.3M396.6 58h3.3M679.4 58h-3.3M396.6 40.2h3.3M679.4 40.2h-3.3M396.6 22.3h3.3M679.4 22.3h-3.3M396.6 4.5h3.3M679.4 4.5h-3.3" stroke="#4a4a4a" stroke-width="0.75" fill="none"/>
<g font-size="11" fill="#262626" text-anchor="middle">
<text x="396.1" y="216.3">0</text>
<text x="419.7" y="216.3">5</text>
<text x="443.2" y="216.3">10</text>
<text x="466.8" y="216.3">15</text>
<text x="490.4" y="216.3">20</text>
<text x="513.9" y="216.3">25</text>
<text x="537.5" y="216.3">30</text>
<text x="561.1" y="216.3">35</text>
<text x="584.6" y="216.3">40</text>
<text x="608.2" y="216.3">45</text>
<text x="631.8" y="216.3">50</text>
<text x="655.3" y="216.3">55</text>
<text x="678.9" y="216.3">60</text>
</g>
<g font-size="11" fill="#262626" text-anchor="end">
<text x="391.3" y="205.6">0</text>
<text x="391.3" y="187.8">10</text>
<text x="391.3" y="169.9">20</text>
<text x="391.3" y="152.1">30</text>
<text x="391.3" y="134.2">40</text>
<text x="391.3" y="116.4">50</text>
<text x="391.3" y="98.5">60</text>
<text x="391.3" y="80.7">70</text>
<text x="391.3" y="62.8">80</text>
<text x="391.3" y="45">90</text>
<text x="391.3" y="27.1">100</text>
<text x="391.3" y="9.3">110</text>
</g>
<text x="538" y="231.9" font-size="12.1" fill="#262626" text-anchor="middle">Time [min]</text>
<text transform="translate(368.2,102.7) rotate(-90)" font-size="12.1" fill="#262626" text-anchor="middle">Char Depth (300°C Isotherm) [mm]</text>
<text x="645.3" y="25.8" font-size="10" font-weight="bold" fill="#262626">(b)(i)</text>
<rect x="404" y="11.6" width="208.6" height="71.5" fill="#fff" stroke="#4a4a4a" stroke-width="0.6"/>
<path d="M404 28.9H612.6" stroke="#4a4a4a" stroke-width="0.6"/>
<text x="508.3" y="26.3" font-size="9.9" font-weight="bold" fill="#262626" text-anchor="middle">Heating Condition: 25 kW/m<tspan font-size="7.7" dx="0.9" dy="-5.6">2</tspan></text>
<path d="M406.4 36.5H434.1" stroke="#ff0000" stroke-width="1.1" stroke-dasharray="4.4 1.1 2.2 1.2"/>
<text x="436" y="41.3" font-size="10" fill="#262626">Bare Timber</text>
<path d="M406.4 49.5H434.1" stroke="#edb120" stroke-width="1.2" stroke-dasharray="4.5 4.4"/>
<text x="436" y="54.4" font-size="10" fill="#262626">Coating B - Low DFT (1.08 ± 0.10 mm)</text>
<path d="M406.4 62.5H434.1" stroke="#40c828" stroke-width="1.9" stroke-dasharray="1.9 1.37"/>
<text x="436" y="67.5" font-size="10" fill="#262626">Coating B - Med DFT (1.72 ± 0.12 mm)</text>
<path d="M406.4 75.5H434.1" stroke="#0000ff" stroke-width="1.3"/>
<text x="436" y="80.4" font-size="10" fill="#262626">Coating B - High DFT (2.25 ± 0.15 mm)</text>
<clipPath id="cp10"><rect x="39.3" y="259.1" width="282.6" height="196.2"/></clipPath>
<clipPath id="cl10"><rect x="38.8" y="257.6" width="283.6" height="199.2"/></clipPath>
<g clip-path="url(#cp10)">
<polygon points="43,455.3 45.4,450.1 47.7,446 50.1,443.3 52.4,441.6 54.8,440.1 57.2,438.8 59.5,437.6 61.9,436.8 64.2,436 66.6,435.3 68.9,434.6 71.3,433.9 73.6,433.2 76,432.5 78.3,431.8 80.7,431 83.1,430.1 85.4,429.3 87.8,428.4 90.1,427.6 92.5,426.8 94.8,425.9 97.2,425 99.5,424.1 101.9,423.1 104.3,422.1 106.6,421.1 109,420 111.3,419 113.7,417.9 116,416.9 118.4,416 120.7,415.1 123.1,414.5 125.4,413.8 127.8,413.1 130.2,412.5 132.5,411.8 134.9,411.2 137.2,410.5 139.6,409.9 141.9,409.4 144.3,408.9 146.6,408.5 149,408 151.4,407.5 153.7,407.1 156.1,406.6 158.4,406.1 160.8,405.6 163.1,405.2 165.5,404.7 167.8,404.3 170.2,403.9 172.5,403.5 174.9,403.1 177.3,402.6 179.6,402.1 182,401.5 184.3,400.9 186.7,400.3 189,399.7 191.4,399.1 193.7,398.6 196.1,397.9 198.5,397.3 200.8,396.6 203.2,395.5 205.5,392.7 207.9,387.9 210.2,383.1 212.6,379.9 214.9,378.2 217.3,377.5 219.6,377.4 222,377.5 224.4,377.6 226.7,377.5 229.1,377 231.4,376.4 233.8,375.7 236.1,375.2 238.5,374.7 240.8,374.4 243.2,374.1 245.6,373.8 247.9,373.4 250.3,372.7 252.6,371.4 255,369 257.3,365.5 259.7,361.7 262,358.3 264.4,355.4 266.7,352.5 269.1,349.6 271.5,346.7 273.8,344.1 276.2,342 278.5,340.8 280.9,340.3 283.2,340.3 285.6,340.3 287.9,340.3 290.3,340.3 292.7,340.3 295,340.3 297.4,340.3 299.7,340.3 302.1,340.3 304.4,340.3 306.8,340.3 309.1,340.3 311.5,340.3 313.8,340.3 316.2,340.3 318.6,340.3 320.9,340.3 321.3,340.3 321.3,343.5 320.5,343.9 318.2,344.8 315.8,345.9 313.5,347.3 311.1,348.8 308.8,350.3 306.4,351.8 304,353.2 301.7,354.6 299.3,356.2 297,357.9 294.6,359.6 292.3,361 289.9,362.1 287.6,362.9 285.2,363.7 282.9,364.5 280.5,365.4 278.1,366.3 275.8,367.2 273.4,368.2 271.1,369.1 268.7,370 266.4,370.9 264,371.7 261.7,372.2 259.3,372.5 256.9,372.7 254.6,372.9 252.2,373.1 249.9,373.3 247.5,373.6 245.2,373.8 242.8,374.2 240.5,374.6 238.1,375.1 235.8,375.7 233.4,376.4 231,377.6 228.7,379.4 226.3,381.9 224,384.9 221.6,387.6 219.3,389.7 216.9,391 214.6,392 212.2,392.9 209.8,393.9 207.5,395.1 205.1,396.4 202.8,397.4 200.4,398.3 198.1,399.2 195.7,400 193.4,400.7 191,401.3 188.7,401.8 186.3,402.4 183.9,403 181.6,403.6 179.2,404.2 176.9,404.7 174.5,405.2 172.2,405.5 169.8,405.9 167.5,406.3 165.1,406.8 162.7,407.2 160.4,407.7 158,408.2 155.7,408.7 153.3,409.1 151,409.6 148.6,410.1 146.3,410.5 143.9,411 141.6,411.5 139.2,412 136.8,412.7 134.5,413.4 132.1,414.2 129.8,414.9 127.4,415.7 125.1,416.5 122.7,417.2 120.4,418 118,418.9 115.6,419.9 113.3,421 110.9,422.1 108.6,423.2 106.2,424.3 103.9,425.4 101.5,426.4 99.2,427.4 96.8,428.3 94.5,429.2 92.1,430 89.7,430.8 87.4,431.5 85,432.3 82.7,433.1 80.3,433.9 78,434.7 75.6,435.4 73.3,436.1 70.9,436.8 68.5,437.5 66.2,438.2 63.8,439 61.5,439.7 59.1,440.6 56.8,441.8 54.4,443.2 52.1,444.7 49.7,446.9 47.4,450.5 45,455.3" fill="#ff0000" fill-opacity="0.2"/>
<polygon points="56,455.3 58.4,453.8 60.7,452.3 63.1,451 65.4,449.7 67.8,448.6 70.2,447.7 72.5,446.9 74.9,446.2 77.2,445.7 79.6,445.2 81.9,444.8 84.3,444.4 86.6,444 89,443.7 91.3,443.4 93.7,443.1 96.1,442.9 98.4,442.7 100.8,442.5 103.1,442.3 105.5,442.1 107.8,441.9 110.2,441.7 112.5,441.5 114.9,441.3 117.3,441 119.6,440.7 122,440.4 124.3,440.1 126.7,439.7 129,439.2 131.4,438.7 133.7,438.1 136.1,437.5 138.4,436.9 140.8,436.1 143.2,435.4 145.5,434.5 147.9,433.7 150.2,432.8 152.6,431.9 154.9,431 157.3,430.1 159.6,429.2 162,428.4 164.4,427.6 166.7,426.8 169.1,426.1 171.4,425.4 173.8,424.7 176.1,424.1 178.5,423.5 180.8,422.8 183.2,422.2 185.5,421.6 187.9,421.1 190.3,420.5 192.6,419.9 195,419.4 197.3,418.9 199.7,418.3 202,417.8 204.4,417.4 206.7,416.9 209.1,416.4 211.5,415.9 213.8,415.4 216.2,415 218.5,414.5 220.9,414 223.2,413.5 225.6,413.1 227.9,412.6 230.3,412 232.6,411.5 235,411 237.4,410.4 239.7,409.8 242.1,409.1 244.4,408.5 246.8,407.8 249.1,407.1 251.5,406.4 253.8,405.7 256.2,404.9 258.6,404.1 260.9,403.3 263.3,402.5 265.6,401.6 268,400.7 270.3,399.9 272.7,399 275,398.2 277.4,397.3 279.7,396.5 282.1,395.7 284.5,394.9 286.8,394.1 289.2,393.3 291.5,392.5 293.9,391.8 296.2,391.1 298.6,390.4 300.9,389.7 303.3,389.1 305.7,388.5 308,387.9 310.4,387.3 312.7,386.8 315.1,386.3 317.4,385.9 319.8,385.4 321.2,385 321.2,415.3 320.1,415.4 317.7,415.5 315.4,415.7 313,415.8 310.6,415.9 308.3,416 305.9,416.2 303.6,416.3 301.2,416.4 298.9,416.5 296.5,416.7 294.2,416.8 291.8,416.9 289.4,417 287.1,417.2 284.7,417.3 282.4,417.4 280,417.5 277.7,417.7 275.3,417.8 273,417.9 270.6,418 268.3,418.2 265.9,418.3 263.5,418.4 261.2,418.6 258.8,418.7 256.5,418.9 254.1,419.1 251.8,419.3 249.4,419.6 247.1,419.8 244.7,420.1 242.3,420.3 240,420.6 237.6,420.9 235.3,421.3 232.9,421.6 230.6,422 228.2,422.4 225.9,422.7 223.5,423.1 221.2,423.5 218.8,423.9 216.4,424.3 214.1,424.7 211.7,425.1 209.4,425.5 207,425.8 204.7,426.2 202.3,426.6 200,427 197.6,427.4 195.2,427.8 192.9,428.1 190.5,428.5 188.2,428.9 185.8,429.3 183.5,429.7 181.1,430.1 178.8,430.4 176.4,430.8 174.1,431.1 171.7,431.5 169.3,431.8 167,432.2 164.6,432.6 162.3,433.1 159.9,433.5 157.6,434 155.2,434.5 152.9,435.1 150.5,435.6 148.1,436.1 145.8,436.6 143.4,437.1 141.1,437.6 138.7,438.2 136.4,438.7 134,439.3 131.7,439.8 129.3,440.4 127,441 124.6,441.6 122.2,442.2 119.9,442.8 117.5,443.4 115.2,444 112.8,444.6 110.5,445.2 108.1,445.7 105.8,446.3 103.4,446.9 101,447.4 98.7,447.9 96.3,448.5 94,449 91.6,449.4 89.3,449.9 86.9,450.4 84.6,450.8 82.2,451.3 79.9,451.7 77.5,452.2 75.1,452.6 72.8,453 70.4,453.5 68.1,453.9 65.7,454.4 63.4,454.8 61,455.3" fill="#edb120" fill-opacity="0.2"/>
<polygon points="69,455.3 71.4,454.6 73.7,453.9 76.1,453.2 78.4,452.5 80.8,451.9 83.2,451.3 85.5,450.8 87.9,450.3 90.2,449.8 92.6,449.3 94.9,448.8 97.3,448.4 99.6,447.9 102,447.4 104.3,447 106.7,446.5 109.1,446.1 111.4,445.7 113.8,445.3 116.1,444.9 118.5,444.6 120.8,444.2 123.2,443.8 125.5,443.5 127.9,443.2 130.3,442.8 132.6,442.5 135,442.2 137.3,441.9 139.7,441.5 142,441.2 144.4,440.9 146.7,440.6 149.1,440.3 151.4,440 153.8,439.8 156.2,439.5 158.5,439.3 160.9,439 163.2,438.8 165.6,438.6 167.9,438.4 170.3,438.3 172.6,438 175,437.8 177.4,437.5 179.7,437.3 182.1,436.9 184.4,436.6 186.8,436.2 189.1,435.9 191.5,435.5 193.8,435.1 196.2,434.8 198.5,434.4 200.9,434 203.3,433.6 205.6,433.2 208,432.9 210.3,432.5 212.7,432 215,431.6 217.4,431.2 219.7,430.7 222.1,430.2 224.5,429.8 226.8,429.3 229.2,428.8 231.5,428.3 233.9,427.7 236.2,427.2 238.6,426.7 240.9,426.2 243.3,425.7 245.6,425.2 248,424.7 250.4,424.2 252.7,423.7 255.1,423.1 257.4,422.6 259.8,422.1 262.1,421.6 264.5,421 266.8,420.5 269.2,419.9 271.6,419.4 273.9,418.8 276.3,418.3 278.6,417.8 281,417.2 283.3,416.7 285.7,416.1 288,415.6 290.4,415 292.7,414.5 295.1,413.9 297.5,413.4 299.8,412.8 302.2,412.2 304.5,411.7 306.9,411.1 309.2,410.6 311.6,410 313.9,409.5 316.3,409 318.7,408.4 321,407.9 321.2,407.7 321.2,416.2 320.9,416.4 318.5,416.8 316.2,417.2 313.8,417.6 311.4,418 309.1,418.5 306.7,418.9 304.4,419.3 302,419.8 299.7,420.2 297.3,420.6 295,421.1 292.6,421.5 290.2,421.9 287.9,422.3 285.5,422.8 283.2,423.2 280.8,423.6 278.5,424 276.1,424.4 273.8,424.8 271.4,425.1 269.1,425.5 266.7,425.9 264.3,426.3 262,426.7 259.6,427.1 257.3,427.5 254.9,427.9 252.6,428.3 250.2,428.7 247.9,429.1 245.5,429.5 243.1,429.9 240.8,430.3 238.4,430.7 236.1,431.1 233.7,431.4 231.4,431.8 229,432.2 226.7,432.6 224.3,433 222,433.4 219.6,433.8 217.2,434.1 214.9,434.5 212.5,434.8 210.2,435.2 207.8,435.5 205.5,435.9 203.1,436.2 200.8,436.5 198.4,436.9 196,437.2 193.7,437.5 191.3,437.8 189,438.2 186.6,438.5 184.3,438.8 181.9,439.1 179.6,439.5 177.2,439.8 174.9,440.1 172.5,440.4 170.1,440.7 167.8,441 165.4,441.3 163.1,441.6 160.7,441.9 158.4,442.2 156,442.5 153.7,442.8 151.3,443.2 148.9,443.5 146.6,443.9 144.2,444.2 141.9,444.6 139.5,444.9 137.2,445.3 134.8,445.6 132.5,446 130.1,446.4 127.8,446.7 125.4,447.1 123,447.5 120.7,447.9 118.3,448.3 116,448.7 113.6,449.2 111.3,449.6 108.9,450.1 106.6,450.6 104.2,451.1 101.8,451.6 99.5,452.1 97.1,452.6 94.8,453 92.4,453.5 90.1,453.9 87.7,454.4 85.4,454.8 83,455.3" fill="#40c828" fill-opacity="0.2"/>
<polygon points="107,455.3 109.3,454.9 111.7,454.4 114,454 116.4,453.6 118.8,453.2 121.1,452.8 123.5,452.4 125.8,452.1 128.2,451.7 130.5,451.3 132.9,451 135.2,450.7 137.6,450.3 140,450 142.3,449.7 144.7,449.4 147,449 149.4,448.7 151.7,448.3 154.1,447.9 156.4,447.6 158.8,447.2 161.1,446.8 163.5,446.4 165.9,446 168.2,445.6 170.6,445.2 172.9,444.8 175.3,444.4 177.6,444.1 180,443.8 182.3,443.4 184.7,443.2 187.1,442.9 189.4,442.6 191.8,442.4 194.1,442.1 196.5,441.8 198.8,441.5 201.2,441.2 203.5,440.8 205.9,440.5 208.2,440.2 210.6,439.8 213,439.5 215.3,439.1 217.7,438.7 220,438.4 222.4,438 224.7,437.7 227.1,437.3 229.4,437 231.8,436.6 234.2,436.3 236.5,435.9 238.9,435.6 241.2,435.2 243.6,434.8 245.9,434.5 248.3,434.1 250.6,433.7 253,433.4 255.3,433 257.7,432.6 260.1,432.2 262.4,431.8 264.8,431.4 267.1,431 269.5,430.6 271.8,430.2 274.2,429.8 276.5,429.4 278.9,429 281.3,428.7 283.6,428.3 286,427.9 288.3,427.5 290.7,427.2 293,426.8 295.4,426.5 297.7,426.2 300.1,425.8 302.4,425.5 304.8,425.2 307.2,424.9 309.5,424.6 311.9,424.3 314.2,424 316.6,423.7 318.9,423.3 321.2,423 321.2,435 320.8,435.1 318.5,435.3 316.1,435.6 313.8,435.8 311.4,436 309,436.3 306.7,436.5 304.3,436.8 302,437 299.6,437.3 297.3,437.5 294.9,437.8 292.6,438 290.2,438.3 287.8,438.5 285.5,438.8 283.1,439 280.8,439.3 278.4,439.5 276.1,439.8 273.7,440 271.4,440.2 269,440.5 266.7,440.7 264.3,441 261.9,441.3 259.6,441.5 257.2,441.8 254.9,442 252.5,442.3 250.2,442.6 247.8,442.9 245.5,443.2 243.1,443.5 240.7,443.8 238.4,444.2 236,444.5 233.7,444.8 231.3,445.2 229,445.5 226.6,445.9 224.3,446.3 221.9,446.6 219.6,446.9 217.2,447.3 214.8,447.6 212.5,447.9 210.1,448.1 207.8,448.4 205.4,448.6 203.1,448.9 200.7,449.1 198.4,449.4 196,449.7 193.6,449.9 191.3,450.2 188.9,450.4 186.6,450.7 184.2,451 181.9,451.2 179.5,451.4 177.2,451.6 174.8,451.9 172.5,452.1 170.1,452.3 167.7,452.5 165.4,452.7 163,453 160.7,453.2 158.3,453.5 156,453.7 153.6,454 151.3,454.2 148.9,454.4 146.5,454.6 144.2,454.7 141.8,454.9 139.5,455.3 137.1,455.3 134.8,455.3 132.4,455.3 130.1,455.3 127.7,455.3 125.4,455.3 123,455.3" fill="#0000ff" fill-opacity="0.2"/>
</g>
<g clip-path="url(#cl10)">
<polyline points="43.4,455.3 45.8,450.8 48.1,446.9 50.5,444.1 52.8,442.1 55.2,440.7 57.5,439.7 59.9,438.7 62.2,437.9 64.6,437.2 66.9,436.5 69.3,435.8 71.7,435.2 74,434.5 76.4,433.8 78.7,433.1 81.1,432.3 83.4,431.5 85.8,430.7 88.1,429.9 90.5,429.1 92.9,428.2 95.2,427.4 97.6,426.5 99.9,425.6 102.3,424.6 104.6,423.5 107,422.5 109.3,421.4 111.7,420.4 114,419.3 116.4,418.2 118.8,417.2 121.1,416.3 123.5,415.5 125.8,414.7 128.2,413.9 130.5,413.2 132.9,412.6 135.2,412 137.6,411.4 140,410.8 142.3,410.3 144.7,409.9 147,409.4 149.4,408.9 151.7,408.5 154.1,408 156.4,407.5 158.8,407 161.1,406.6 163.5,406.1 165.9,405.6 168.2,405.2 170.6,404.8 172.9,404.4 175.3,404.1 177.6,403.6 180,403 182.3,402.5 184.7,401.9 187.1,401.4 189.4,400.8 191.8,400.2 194.1,399.6 196.5,399 198.8,398.4 201.2,397.7 203.5,396.5 205.9,394.5 208.2,391.9 210.6,389.7 213,388.2 215.3,387 217.7,385.8 220,384.4 222.4,382.9 224.7,381.2 227.1,379.4 229.4,377.8 231.8,376.5 234.2,375.5 236.5,374.8 238.9,374.3 241.2,373.8 243.6,373.5 245.9,373.2 248.3,372.9 250.6,372.5 253,371.9 255.3,370.9 257.7,369.6 260.1,367.9 262.4,366.2 264.8,364.5 267.1,363 269.5,361.5 271.8,360 274.2,358.5 276.5,357 278.9,355.8 281.3,354.8 283.6,354 286,353.2 288.3,352.5 290.7,351.8 293,351.2 295.4,350.5 297.7,349.8 300.1,348.9 302.4,348 304.8,347.2 307.2,346.5 309.5,345.8 311.9,345.1 314.2,344.5 316.6,344 318.9,343.4 321.3,343" fill="none" stroke="#ff0000" stroke-width="1.1" stroke-dasharray="4.4 1.1 2.2 1.2" stroke-linejoin="round"/>
<polyline points="57,455.3 59.4,454.5 61.7,453.7 64.1,452.9 66.4,452.2 68.8,451.5 71.1,450.9 73.5,450.3 75.8,449.7 78.2,449.2 80.6,448.7 82.9,448.2 85.3,447.8 87.6,447.3 90,446.8 92.3,446.3 94.7,445.9 97,445.4 99.4,444.9 101.8,444.5 104.1,444 106.5,443.5 108.8,443 111.2,442.6 113.5,442.1 115.9,441.6 118.2,441.1 120.6,440.7 122.9,440.2 125.3,439.7 127.7,439.3 130,438.8 132.4,438.3 134.7,437.8 137.1,437.4 139.4,436.9 141.8,436.4 144.1,435.9 146.5,435.4 148.9,434.9 151.2,434.3 153.6,433.8 155.9,433.2 158.3,432.6 160.6,432 163,431.4 165.3,430.8 167.7,430.2 170,429.6 172.4,429 174.8,428.4 177.1,427.8 179.5,427.2 181.8,426.6 184.2,426 186.5,425.4 188.9,424.9 191.2,424.3 193.6,423.7 196,423.2 198.3,422.7 200.7,422.1 203,421.6 205.4,421.1 207.7,420.7 210.1,420.2 212.4,419.7 214.8,419.2 217.1,418.8 219.5,418.3 221.9,417.8 224.2,417.4 226.6,416.9 228.9,416.4 231.3,416 233.6,415.5 236,415 238.3,414.6 240.7,414.1 243.1,413.7 245.4,413.3 247.8,412.9 250.1,412.4 252.5,412.1 254.8,411.7 257.2,411.3 259.5,410.9 261.9,410.5 264.2,410.1 266.6,409.6 269,409.2 271.3,408.7 273.7,408.3 276,407.8 278.4,407.3 280.7,406.9 283.1,406.4 285.4,405.9 287.8,405.5 290.2,405 292.5,404.6 294.9,404.1 297.2,403.7 299.6,403.3 301.9,402.8 304.3,402.4 306.6,402 309,401.6 311.3,401.3 313.7,400.9 316.1,400.5 318.4,400.2 320.8,399.8 321.2,399.7" fill="none" stroke="#edb120" stroke-width="1.2" stroke-dasharray="4.5 4.4" stroke-linejoin="round"/>
<polyline points="63,455.3 65.3,455.3 67.7,455.3 70.1,454.8 72.4,454.6 74.8,454.4 77.1,454.1 79.5,453.8 81.8,453.4 84.2,453.1 86.5,452.7 88.9,452.3 91.3,451.8 93.6,451.4 96,450.9 98.3,450.4 100.7,449.9 103,449.4 105.4,448.9 107.7,448.4 110.1,447.9 112.4,447.4 114.8,446.9 117.2,446.5 119.5,446 121.9,445.6 124.2,445.2 126.6,444.9 128.9,444.5 131.3,444.1 133.6,443.8 136,443.4 138.4,443.1 140.7,442.8 143.1,442.4 145.4,442.1 147.8,441.8 150.1,441.5 152.5,441.2 154.8,440.9 157.2,440.6 159.5,440.4 161.9,440.1 164.3,439.9 166.6,439.6 169,439.4 171.3,439.2 173.7,438.9 176,438.7 178.4,438.4 180.7,438.2 183.1,437.9 185.5,437.5 187.8,437.2 190.2,436.9 192.5,436.5 194.9,436.2 197.2,435.8 199.6,435.5 201.9,435.1 204.3,434.8 206.6,434.4 209,434.1 211.4,433.7 213.7,433.3 216.1,433 218.4,432.6 220.8,432.3 223.1,431.9 225.5,431.6 227.8,431.2 230.2,430.8 232.6,430.4 234.9,430 237.3,429.5 239.6,429.1 242,428.6 244.3,428.1 246.7,427.6 249,427.1 251.4,426.6 253.7,426.1 256.1,425.6 258.5,425.1 260.8,424.6 263.2,424.1 265.5,423.6 267.9,423.1 270.2,422.6 272.6,422.1 274.9,421.7 277.3,421.2 279.7,420.7 282,420.2 284.4,419.7 286.7,419.2 289.1,418.8 291.4,418.3 293.8,417.8 296.1,417.3 298.5,416.8 300.8,416.3 303.2,415.8 305.6,415.3 307.9,414.8 310.3,414.3 312.6,413.8 315,413.3 317.3,412.9 319.7,412.4 321.2,411.9" fill="none" stroke="#40c828" stroke-width="1.9" stroke-dasharray="1.9 1.37" stroke-linejoin="round"/>
<polyline points="107,455.3 109.3,455.1 111.7,454.9 114,454.8 116.4,454.6 118.8,454.4 121.1,454.2 123.5,454.1 125.8,453.9 128.2,453.7 130.5,453.6 132.9,453.4 135.2,453.2 137.6,453.1 140,452.9 142.3,452.7 144.7,452.5 147,452.3 149.4,452.1 151.7,451.8 154.1,451.5 156.4,451.2 158.8,450.9 161.1,450.6 163.5,450.3 165.9,450.1 168.2,449.9 170.6,449.7 172.9,449.5 175.3,449.4 177.6,449.3 180,449.1 182.3,448.8 184.7,448.6 187.1,448.3 189.4,448 191.8,447.6 194.1,447.3 196.5,446.9 198.8,446.6 201.2,446.2 203.5,445.9 205.9,445.5 208.2,445.2 210.6,444.8 213,444.5 215.3,444.1 217.7,443.7 220,443.4 222.4,443 224.7,442.7 227.1,442.3 229.4,441.9 231.8,441.6 234.2,441.2 236.5,440.8 238.9,440.4 241.2,440 243.6,439.6 245.9,439.1 248.3,438.7 250.6,438.3 253,437.9 255.3,437.5 257.7,437.1 260.1,436.7 262.4,436.4 264.8,436 267.1,435.6 269.5,435.3 271.8,435 274.2,434.6 276.5,434.3 278.9,433.9 281.3,433.6 283.6,433.3 286,432.9 288.3,432.6 290.7,432.3 293,432 295.4,431.7 297.7,431.4 300.1,431.1 302.4,430.9 304.8,430.6 307.2,430.3 309.5,430 311.9,429.8 314.2,429.5 316.6,429.2 318.9,428.9 321.2,428.7" fill="none" stroke="#0000ff" stroke-width="1.3" stroke-linejoin="round"/>
</g>
<rect x="39.3" y="259.1" width="282.6" height="196.2" fill="none" stroke="#4a4a4a" stroke-width="0.6"/>
<path d="M39.3 455.3v-3.3M39.3 259.1v3.3M62.8 455.3v-3.3M62.8 259.1v3.3M86.4 455.3v-3.3M86.4 259.1v3.3M109.9 455.3v-3.3M109.9 259.1v3.3M133.5 455.3v-3.3M133.5 259.1v3.3M157 455.3v-3.3M157 259.1v3.3M180.6 455.3v-3.3M180.6 259.1v3.3M204.1 455.3v-3.3M204.1 259.1v3.3M227.7 455.3v-3.3M227.7 259.1v3.3M251.2 455.3v-3.3M251.2 259.1v3.3M274.8 455.3v-3.3M274.8 259.1v3.3M298.3 455.3v-3.3M298.3 259.1v3.3M321.9 455.3v-3.3M321.9 259.1v3.3M39.3 455.3h3.3M321.9 455.3h-3.3M39.3 437.5h3.3M321.9 437.5h-3.3M39.3 419.6h3.3M321.9 419.6h-3.3M39.3 401.8h3.3M321.9 401.8h-3.3M39.3 384h3.3M321.9 384h-3.3M39.3 366.1h3.3M321.9 366.1h-3.3M39.3 348.3h3.3M321.9 348.3h-3.3M39.3 330.4h3.3M321.9 330.4h-3.3M39.3 312.6h3.3M321.9 312.6h-3.3M39.3 294.8h3.3M321.9 294.8h-3.3M39.3 276.9h3.3M321.9 276.9h-3.3M39.3 259.1h3.3M321.9 259.1h-3.3" stroke="#4a4a4a" stroke-width="0.75" fill="none"/>
<g font-size="11" fill="#262626" text-anchor="middle">
<text x="38.8" y="470.8">0</text>
<text x="62.3" y="470.8">5</text>
<text x="85.9" y="470.8">10</text>
<text x="109.4" y="470.8">15</text>
<text x="133" y="470.8">20</text>
<text x="156.5" y="470.8">25</text>
<text x="180.1" y="470.8">30</text>
<text x="203.6" y="470.8">35</text>
<text x="227.2" y="470.8">40</text>
<text x="250.7" y="470.8">45</text>
<text x="274.3" y="470.8">50</text>
<text x="297.8" y="470.8">55</text>
<text x="321.4" y="470.8">60</text>
</g>
<g font-size="11" fill="#262626" text-anchor="end">
<text x="34" y="442.3">10</text>
<text x="34" y="424.4">20</text>
<text x="34" y="406.6">30</text>
<text x="34" y="388.8">40</text>
<text x="34" y="370.9">50</text>
<text x="34" y="353.1">60</text>
<text x="34" y="335.2">70</text>
<text x="34" y="317.4">80</text>
<text x="34" y="299.6">90</text>
<text x="34" y="281.7">100</text>
<text x="34" y="263.9">110</text>
</g>
<text x="180.6" y="486.4" font-size="12.1" fill="#262626" text-anchor="middle">Time [min]</text>
<text transform="translate(10.9,357.2) rotate(-90)" font-size="12.1" fill="#262626" text-anchor="middle">Char Depth (300°C Isotherm) [mm]</text>
<text x="288" y="280.4" font-size="10" font-weight="bold" fill="#262626">(a)(ii)</text>
<rect x="46.7" y="266.2" width="208.6" height="71.5" fill="#fff" stroke="#4a4a4a" stroke-width="0.6"/>
<path d="M46.7 283.5H255.3" stroke="#4a4a4a" stroke-width="0.6"/>
<text x="151" y="280.9" font-size="9.9" font-weight="bold" fill="#262626" text-anchor="middle">Heating Condition: 50 kW/m<tspan font-size="7.7" dx="0.9" dy="-5.6">2</tspan></text>
<path d="M49.1 291.5H76.8" stroke="#ff0000" stroke-width="1.1" stroke-dasharray="4.4 1.1 2.2 1.2"/>
<text x="78.7" y="295.9" font-size="10" fill="#262626">Bare Timber</text>
<path d="M49.1 304.5H76.8" stroke="#edb120" stroke-width="1.2" stroke-dasharray="4.5 4.4"/>
<text x="78.7" y="309" font-size="10" fill="#262626">Coating A - Low DFT (1.18 ± 0.12 mm)</text>
<path d="M49.1 317.5H76.8" stroke="#40c828" stroke-width="1.9" stroke-dasharray="1.9 1.37"/>
<text x="78.7" y="322.1" font-size="10" fill="#262626">Coating A - Med DFT (1.57 ± 0.10 mm)</text>
<path d="M49.1 330.5H76.8" stroke="#0000ff" stroke-width="1.3"/>
<text x="78.7" y="335" font-size="10" fill="#262626">Coating A - High DFT (2.45 ± 0.15 mm)</text>
<clipPath id="cp11"><rect x="396.6" y="259.4" width="282.8" height="195.9"/></clipPath>
<clipPath id="cl11"><rect x="396.1" y="257.9" width="283.8" height="198.9"/></clipPath>
<g clip-path="url(#cp11)">
<polygon points="400.3,455.3 402.7,450.1 405,446 407.4,443.3 409.8,441.6 412.1,440.2 414.5,438.8 416.8,437.7 419.2,436.8 421.5,436.1 423.9,435.4 426.2,434.7 428.6,433.9 431,433.2 433.3,432.5 435.7,431.8 438,431 440.4,430.2 442.7,429.3 445.1,428.5 447.5,427.6 449.8,426.8 452.2,426 454.5,425.1 456.9,424.2 459.2,423.2 461.6,422.2 464,421.1 466.3,420.1 468.7,419 471,418 473.4,417 475.7,416 478.1,415.2 480.5,414.5 482.8,413.9 485.2,413.2 487.5,412.5 489.9,411.9 492.2,411.2 494.6,410.6 496.9,410 499.3,409.5 501.7,409 504,408.5 506.4,408.1 508.7,407.6 511.1,407.1 513.4,406.7 515.8,406.2 518.2,405.7 520.5,405.3 522.9,404.8 525.2,404.3 527.6,403.9 529.9,403.6 532.3,403.2 534.7,402.7 537,402.2 539.4,401.6 541.7,401 544.1,400.4 546.4,399.8 548.8,399.2 551.2,398.6 553.5,398 555.9,397.4 558.2,396.7 560.6,395.6 562.9,392.8 565.3,388 567.6,383.2 570,380 572.4,378.4 574.7,377.7 577.1,377.5 579.4,377.6 581.8,377.7 584.1,377.6 586.5,377.1 588.9,376.5 591.2,375.8 593.6,375.3 595.9,374.9 598.3,374.5 600.6,374.2 603,373.9 605.4,373.5 607.7,372.8 610.1,371.5 612.4,369.1 614.8,365.7 617.1,361.8 619.5,358.5 621.9,355.6 624.2,352.7 626.6,349.8 628.9,346.9 631.3,344.3 633.6,342.2 636,341 638.3,340.5 640.7,340.4 643.1,340.4 645.4,340.4 647.8,340.4 650.1,340.4 652.5,340.4 654.8,340.4 657.2,340.4 659.6,340.4 661.9,340.4 664.3,340.4 666.6,340.4 669,340.4 671.3,340.4 673.7,340.4 676.1,340.4 678.4,340.4 678.8,340.4 678.8,343.7 678,344.1 675.7,344.9 673.3,346.1 671,347.4 668.6,348.9 666.2,350.5 663.9,352 661.5,353.4 659.2,354.7 656.8,356.3 654.5,358.1 652.1,359.7 649.8,361.1 647.4,362.2 645,363.1 642.7,363.9 640.3,364.6 638,365.5 635.6,366.4 633.3,367.3 630.9,368.3 628.5,369.2 626.2,370.2 623.8,371.1 621.5,371.8 619.1,372.4 616.8,372.7 614.4,372.9 612,373.1 609.7,373.3 607.3,373.5 605,373.7 602.6,374 600.3,374.3 597.9,374.7 595.5,375.2 593.2,375.8 590.8,376.6 588.5,377.7 586.1,379.5 583.8,382 581.4,385 579.1,387.7 576.7,389.8 574.3,391.1 572,392.1 569.6,393 567.3,394 564.9,395.2 562.6,396.4 560.2,397.5 557.8,398.4 555.5,399.3 553.1,400.1 550.8,400.7 548.4,401.3 546.1,401.9 543.7,402.5 541.3,403.1 539,403.7 536.6,404.3 534.3,404.8 531.9,405.3 529.6,405.6 527.2,406 524.8,406.4 522.5,406.9 520.1,407.3 517.8,407.8 515.4,408.3 513.1,408.7 510.7,409.2 508.4,409.7 506,410.1 503.6,410.6 501.3,411.1 498.9,411.6 496.6,412.1 494.2,412.8 491.9,413.5 489.5,414.3 487.1,415 484.8,415.8 482.4,416.5 480.1,417.3 477.7,418.1 475.4,419 473,420 470.6,421.1 468.3,422.2 465.9,423.2 463.6,424.3 461.2,425.4 458.9,426.5 456.5,427.5 454.1,428.4 451.8,429.2 449.4,430 447.1,430.8 444.7,431.6 442.4,432.4 440,433.2 437.7,434 435.3,434.7 432.9,435.4 430.6,436.1 428.2,436.9 425.9,437.6 423.5,438.3 421.2,439 418.8,439.7 416.4,440.6 414.1,441.8 411.7,443.2 409.4,444.7 407,446.9 404.7,450.5 402.3,455.3" fill="#ff0000" fill-opacity="0.2"/>
<polygon points="445,455.3 447.4,454.2 449.7,453.2 452.1,452.1 454.4,451.2 456.8,450.2 459.1,449.4 461.5,448.6 463.9,447.8 466.2,447.1 468.6,446.4 470.9,445.7 473.3,445 475.6,444.3 478,443.6 480.4,442.9 482.7,442.2 485.1,441.5 487.4,440.9 489.8,440.3 492.1,439.7 494.5,439.2 496.9,438.7 499.2,438.3 501.6,437.9 503.9,437.5 506.3,437.1 508.6,436.7 511,436.3 513.3,436 515.7,435.6 518.1,435.2 520.4,434.8 522.8,434.5 525.1,434.1 527.5,433.7 529.8,433.3 532.2,432.9 534.6,432.6 536.9,432.2 539.3,431.8 541.6,431.4 544,431.1 546.3,430.7 548.7,430.3 551.1,429.9 553.4,429.6 555.8,429.2 558.1,428.8 560.5,428.4 562.8,428 565.2,427.7 567.6,427.3 569.9,426.9 572.3,426.5 574.6,426 577,425.6 579.3,425.1 581.7,424.6 584,424 586.4,423.5 588.8,422.9 591.1,422.3 593.5,421.8 595.8,421.2 598.2,420.7 600.5,420.2 602.9,419.8 605.3,419.3 607.6,418.8 610,418.3 612.3,417.7 614.7,417.2 617,416.6 619.4,416 621.8,415.3 624.1,414.7 626.5,414 628.8,413.4 631.2,412.7 633.5,412.1 635.9,411.4 638.3,410.7 640.6,410.1 643,409.4 645.3,408.8 647.7,408.1 650,407.5 652.4,406.9 654.7,406.3 657.1,405.6 659.5,405 661.8,404.4 664.2,403.8 666.5,403.2 668.9,402.6 671.2,402 673.6,401.4 676,400.8 678.3,400.3 678.6,400 678.6,418.8 678.2,419 675.9,419.4 673.5,419.8 671.2,420.2 668.8,420.6 666.4,421 664.1,421.4 661.7,421.9 659.4,422.3 657,422.7 654.7,423.1 652.3,423.5 649.9,423.8 647.6,424.1 645.2,424.4 642.9,424.7 640.5,424.9 638.2,425 635.8,425.2 633.4,425.3 631.1,425.4 628.7,425.5 626.4,425.6 624,425.7 621.7,425.9 619.3,426 616.9,426.1 614.6,426.3 612.2,426.5 609.9,426.7 607.5,426.9 605.2,427.2 602.8,427.4 600.5,427.8 598.1,428.2 595.7,428.6 593.4,429.2 591,429.8 588.7,430.5 586.3,431.2 584,431.9 581.6,432.6 579.2,433.2 576.9,433.7 574.5,434.2 572.2,434.7 569.8,435.1 567.5,435.4 565.1,435.7 562.7,436.1 560.4,436.4 558,436.7 555.7,437 553.3,437.3 551,437.6 548.6,437.9 546.2,438.2 543.9,438.5 541.5,438.8 539.2,439.2 536.8,439.5 534.5,439.8 532.1,440.1 529.8,440.4 527.4,440.7 525,441 522.7,441.3 520.3,441.6 518,441.9 515.6,442.2 513.3,442.5 510.9,442.9 508.5,443.2 506.2,443.5 503.8,443.8 501.5,444.1 499.1,444.4 496.8,444.8 494.4,445.1 492,445.5 489.7,445.9 487.3,446.3 485,446.7 482.6,447.1 480.3,447.6 477.9,448.1 475.5,448.6 473.2,449.1 470.8,449.6 468.5,450.2 466.1,450.8 463.8,451.5 461.4,452.2 459.1,452.9 456.7,453.7 454.3,454.5 452,455.3" fill="#edb120" fill-opacity="0.2"/>
<polygon points="481,455.3 483.4,453.4 485.7,451.6 488.1,450 490.4,448.5 492.8,447.3 495.2,446.3 497.5,445.5 499.9,444.8 502.2,444.3 504.6,443.8 506.9,443.4 509.3,443 511.7,442.6 514,442.2 516.4,441.8 518.7,441.4 521.1,441.1 523.4,440.7 525.8,440.4 528.1,440 530.5,439.7 532.9,439.4 535.2,439.1 537.6,438.9 539.9,438.6 542.3,438.3 544.6,438.1 547,437.8 549.4,437.6 551.7,437.4 554.1,437.1 556.4,436.9 558.8,436.6 561.1,436.4 563.5,436.1 565.9,435.9 568.2,435.7 570.6,435.4 572.9,435.2 575.3,434.9 577.6,434.6 580,434.3 582.4,434 584.7,433.7 587.1,433.4 589.4,433 591.8,432.6 594.1,432.3 596.5,431.9 598.8,431.6 601.2,431.2 603.6,430.8 605.9,430.5 608.3,430.1 610.6,429.8 613,429.5 615.3,429.2 617.7,428.9 620.1,428.6 622.4,428.3 624.8,428 627.1,427.8 629.5,427.5 631.8,427.2 634.2,426.9 636.6,426.7 638.9,426.4 641.3,426.1 643.6,425.8 646,425.5 648.3,425.2 650.7,424.8 653.1,424.5 655.4,424.1 657.8,423.7 660.1,423.4 662.5,423 664.8,422.6 667.2,422.3 669.5,421.9 671.9,421.5 674.3,421.2 676.6,420.8 678.6,420.5 678.6,427.6 676.2,428 673.8,428.3 671.5,428.7 669.1,429 666.8,429.4 664.4,429.7 662.1,430.1 659.7,430.4 657.3,430.8 655,431.1 652.6,431.4 650.3,431.8 647.9,432.1 645.6,432.4 643.2,432.7 640.8,433 638.5,433.3 636.1,433.6 633.8,433.8 631.4,434.1 629.1,434.4 626.7,434.7 624.3,434.9 622,435.2 619.6,435.6 617.3,435.9 614.9,436.3 612.6,436.7 610.2,437.2 607.9,437.7 605.5,438.3 603.1,438.8 600.8,439.4 598.4,440.1 596.1,440.7 593.7,441.3 591.4,441.9 589,442.5 586.6,443.1 584.3,443.6 581.9,444.1 579.6,444.5 577.2,444.9 574.9,445.3 572.5,445.6 570.1,445.8 567.8,446 565.4,446.3 563.1,446.5 560.7,446.7 558.4,446.9 556,447.1 553.6,447.3 551.3,447.6 548.9,447.8 546.6,448 544.2,448.2 541.9,448.4 539.5,448.7 537.2,448.9 534.8,449.1 532.4,449.4 530.1,449.6 527.7,449.9 525.4,450.1 523,450.4 520.7,450.7 518.3,451 515.9,451.3 513.6,451.6 511.2,451.9 508.9,452.2 506.5,452.5 504.2,452.8 501.8,453.1 499.4,453.4 497.1,453.7 494.7,454 492.4,454.3 490,454.6" fill="#40c828" fill-opacity="0.2"/>
<polygon points="500,455.3 502.4,455.2 504.7,455 507.1,454.9 509.4,454.7 511.8,454.5 514.2,454.3 516.5,454.1 518.9,453.9 521.2,453.6 523.6,453.3 525.9,453.1 528.3,452.8 530.6,452.4 533,452.1 535.4,451.8 537.7,451.4 540.1,451.1 542.4,450.7 544.8,450.3 547.1,449.9 549.5,449.5 551.9,449 554.2,448.6 556.6,448.2 558.9,447.8 561.3,447.3 563.6,446.9 566,446.6 568.4,446.2 570.7,445.8 573.1,445.4 575.4,445.1 577.8,444.7 580.1,444.3 582.5,444 584.9,443.6 587.2,443.3 589.6,443 591.9,442.7 594.3,442.3 596.6,442 599,441.7 601.3,441.3 603.7,441 606.1,440.7 608.4,440.4 610.8,440 613.1,439.7 615.5,439.4 617.8,439.1 620.2,438.7 622.6,438.4 624.9,438.1 627.3,437.8 629.6,437.4 632,437.1 634.3,436.8 636.7,436.5 639.1,436.1 641.4,435.8 643.8,435.5 646.1,435.2 648.5,434.8 650.8,434.5 653.2,434.2 655.6,433.9 657.9,433.5 660.3,433.2 662.6,432.9 665,432.6 667.3,432.3 669.7,431.9 672,431.6 674.4,431.3 676.8,431 678.6,430.7 678.6,435 677.3,435.2 675,435.5 672.6,435.7 670.3,436 667.9,436.2 665.5,436.5 663.2,436.7 660.8,437 658.5,437.3 656.1,437.5 653.8,437.8 651.4,438.1 649,438.3 646.7,438.6 644.3,438.9 642,439.1 639.6,439.4 637.3,439.7 634.9,439.9 632.5,440.2 630.2,440.5 627.8,440.7 625.5,441 623.1,441.3 620.8,441.5 618.4,441.8 616.1,442.1 613.7,442.3 611.3,442.6 609,442.8 606.6,443 604.3,443.3 601.9,443.5 599.6,443.7 597.2,444 594.8,444.2 592.5,444.4 590.1,444.7 587.8,444.9 585.4,445.2 583.1,445.5 580.7,445.8 578.3,446.2 576,446.6 573.6,447 571.3,447.4 568.9,447.9 566.6,448.3 564.2,448.8 561.8,449.2 559.5,449.7 557.1,450.1 554.8,450.4 552.4,450.7 550.1,451.1 547.7,451.3 545.4,451.6 543,451.8 540.6,452.1 538.3,452.3 535.9,452.6 533.6,452.8 531.2,453 528.9,453.3 526.5,453.5 524.1,453.8 521.8,454 519.4,454.3 517.1,454.5 514.7,454.8 512.4,455 510,455.3" fill="#0000ff" fill-opacity="0.2"/>
</g>
<g clip-path="url(#cl11)">
<polyline points="400.7,455.3 403.1,450.8 405.4,447 407.8,444.1 410.1,442.1 412.5,440.8 414.8,439.7 417.2,438.8 419.6,438 421.9,437.2 424.3,436.5 426.6,435.9 429,435.2 431.3,434.5 433.7,433.8 436.1,433.1 438.4,432.3 440.8,431.5 443.1,430.7 445.5,429.9 447.8,429.1 450.2,428.3 452.5,427.4 454.9,426.5 457.3,425.6 459.6,424.6 462,423.6 464.3,422.5 466.7,421.5 469,420.4 471.4,419.3 473.8,418.3 476.1,417.3 478.5,416.4 480.8,415.5 483.2,414.7 485.5,414 487.9,413.3 490.3,412.7 492.6,412 495,411.4 497.3,410.9 499.7,410.4 502,409.9 504.4,409.5 506.8,409 509.1,408.5 511.5,408.1 513.8,407.6 516.2,407.1 518.5,406.6 520.9,406.2 523.2,405.7 525.6,405.3 528,404.9 530.3,404.5 532.7,404.1 535,403.7 537.4,403.1 539.7,402.6 542.1,402 544.5,401.4 546.8,400.9 549.2,400.3 551.5,399.7 553.9,399.1 556.2,398.5 558.6,397.8 561,396.6 563.3,394.5 565.7,392 568,389.8 570.4,388.3 572.7,387.1 575.1,385.9 577.5,384.5 579.8,383 582.2,381.3 584.5,379.5 586.9,377.9 589.2,376.6 591.6,375.7 593.9,374.9 596.3,374.4 598.7,374 601,373.6 603.4,373.4 605.7,373.1 608.1,372.6 610.4,372 612.8,371 615.2,369.7 617.5,368.1 619.9,366.3 622.2,364.7 624.6,363.1 626.9,361.7 629.3,360.2 631.7,358.6 634,357.1 636.4,355.9 638.7,355 641.1,354.1 643.4,353.4 645.8,352.7 648.2,352 650.5,351.3 652.9,350.7 655.2,349.9 657.6,349.1 659.9,348.2 662.3,347.4 664.6,346.6 667,345.9 669.4,345.3 671.7,344.7 674.1,344.1 676.4,343.6 678.8,343.1" fill="none" stroke="#ff0000" stroke-width="1.1" stroke-dasharray="4.4 1.1 2.2 1.2" stroke-linejoin="round"/>
<polyline points="446,455.3 448.4,454.5 450.7,453.6 453.1,452.8 455.4,452 457.8,451.3 460.1,450.5 462.5,449.8 464.8,449.2 467.2,448.5 469.6,448 471.9,447.4 474.3,446.9 476.6,446.3 479,445.8 481.3,445.3 483.7,444.8 486.1,444.3 488.4,443.9 490.8,443.4 493.1,442.9 495.5,442.5 497.8,442 500.2,441.6 502.6,441.2 504.9,440.7 507.3,440.3 509.6,439.9 512,439.5 514.3,439.1 516.7,438.6 519.1,438.2 521.4,437.8 523.8,437.4 526.1,437 528.5,436.6 530.8,436.2 533.2,435.8 535.5,435.5 537.9,435.1 540.3,434.7 542.6,434.3 545,434 547.3,433.6 549.7,433.2 552,432.9 554.4,432.5 556.8,432.1 559.1,431.8 561.5,431.4 563.8,431 566.2,430.6 568.5,430.3 570.9,429.9 573.3,429.5 575.6,429 578,428.6 580.3,428.1 582.7,427.6 585,427.1 587.4,426.5 589.8,426 592.1,425.5 594.5,425 596.8,424.6 599.2,424.1 601.5,423.7 603.9,423.3 606.2,422.9 608.6,422.5 611,422.1 613.3,421.7 615.7,421.3 618,420.9 620.4,420.6 622.7,420.2 625.1,419.8 627.5,419.4 629.8,419 632.2,418.6 634.5,418.2 636.9,417.8 639.2,417.4 641.6,417 644,416.6 646.3,416.2 648.7,415.8 651,415.4 653.4,415.1 655.7,414.7 658.1,414.3 660.5,413.9 662.8,413.6 665.2,413.2 667.5,412.8 669.9,412.5 672.2,412.1 674.6,411.8 676.9,411.4 678.6,411.1" fill="none" stroke="#edb120" stroke-width="1.2" stroke-dasharray="4.5 4.4" stroke-linejoin="round"/>
<polyline points="480,455.3 482.3,454.7 484.7,454 487,453.4 489.4,452.8 491.8,452.2 494.1,451.6 496.5,451.1 498.8,450.6 501.2,450.1 503.5,449.6 505.9,449.1 508.3,448.6 510.6,448.1 513,447.7 515.3,447.2 517.7,446.7 520,446.3 522.4,445.8 524.8,445.3 527.1,444.9 529.5,444.5 531.8,444.1 534.2,443.7 536.5,443.4 538.9,443 541.3,442.7 543.6,442.4 546,442 548.3,441.7 550.7,441.4 553,441.1 555.4,440.8 557.7,440.5 560.1,440.2 562.5,439.9 564.8,439.6 567.2,439.3 569.5,439 571.9,438.6 574.2,438.3 576.6,437.9 579,437.5 581.3,437.1 583.7,436.6 586,436.2 588.4,435.7 590.7,435.3 593.1,434.9 595.5,434.5 597.8,434.1 600.2,433.9 602.5,433.6 604.9,433.3 607.2,433.1 609.6,432.9 612,432.6 614.3,432.4 616.7,432.1 619,431.8 621.4,431.6 623.7,431.3 626.1,431 628.4,430.7 630.8,430.5 633.2,430.2 635.5,429.9 637.9,429.6 640.2,429.3 642.6,429 644.9,428.7 647.3,428.4 649.7,428 652,427.7 654.4,427.3 656.7,427 659.1,426.6 661.4,426.2 663.8,425.9 666.2,425.5 668.5,425.1 670.9,424.8 673.2,424.4 675.6,424.1 677.9,423.7 678.6,423.5" fill="none" stroke="#40c828" stroke-width="1.9" stroke-dasharray="1.9 1.37" stroke-linejoin="round"/>
<polyline points="396,455.3 398.3,455.3 400.7,455.3 403.1,455.3 405.4,455.3 407.8,455.3 410.1,455.3 412.5,455.3 414.8,455.3 417.2,455.3 419.6,455.3 421.9,455.3 424.3,455.3 426.6,455.3 429,455.3 431.3,455.3 433.7,455.3 436.1,455.3 438.4,455.3 440.8,455.3 443.1,455.3 445.5,455.3 447.8,455.3 450.2,455.3 452.5,455.3 454.9,455.3 457.3,455.3 459.6,455.3 462,455.3 464.3,455.3 466.7,455.3 469,455.3 471.4,455.3 473.8,455.3 476.1,455.3 478.5,455.3 480.8,455.3 483.2,455.3 485.5,455.3 487.9,455.3 490.3,455.3 492.6,455.3 495,455.3 497.3,455.3 499.7,455.3 502,455.3 504.4,455.3 506.8,455.3 509.1,455.3 511.5,454.8 513.8,454.6 516.2,454.4 518.5,454.1 520.9,453.9 523.2,453.6 525.6,453.3 528,453.1 530.3,452.8 532.7,452.5 535,452.3 537.4,452 539.7,451.8 542.1,451.6 544.5,451.3 546.8,451 549.2,450.8 551.5,450.5 553.9,450.2 556.2,449.8 558.6,449.5 561,449.1 563.3,448.6 565.7,448.2 568,447.7 570.4,447.2 572.7,446.7 575.1,446.3 577.5,445.8 579.8,445.4 582.2,445 584.5,444.7 586.9,444.3 589.2,444 591.6,443.7 593.9,443.4 596.3,443.1 598.7,442.9 601,442.6 603.4,442.3 605.7,442 608.1,441.7 610.4,441.4 612.8,441.1 615.2,440.8 617.5,440.5 619.9,440.3 622.2,440 624.6,439.7 626.9,439.4 629.3,439.2 631.7,438.9 634,438.6 636.4,438.3 638.7,438 641.1,437.8 643.4,437.5 645.8,437.2 648.2,436.8 650.5,436.5 652.9,436.2 655.2,435.8 657.6,435.5 659.9,435.2 662.3,434.8 664.6,434.5 667,434.1 669.4,433.8 671.7,433.4 674.1,433.1 676.4,432.8 678.6,432.4" fill="none" stroke="#0000ff" stroke-width="1.3" stroke-linejoin="round"/>
</g>
<rect x="396.6" y="259.4" width="282.8" height="195.9" fill="none" stroke="#4a4a4a" stroke-width="0.6"/>
<path d="M396.6 455.3v-3.3M396.6 259.4v3.3M420.2 455.3v-3.3M420.2 259.4v3.3M443.7 455.3v-3.3M443.7 259.4v3.3M467.3 455.3v-3.3M467.3 259.4v3.3M490.9 455.3v-3.3M490.9 259.4v3.3M514.4 455.3v-3.3M514.4 259.4v3.3M538 455.3v-3.3M538 259.4v3.3M561.6 455.3v-3.3M561.6 259.4v3.3M585.1 455.3v-3.3M585.1 259.4v3.3M608.7 455.3v-3.3M608.7 259.4v3.3M632.3 455.3v-3.3M632.3 259.4v3.3M655.8 455.3v-3.3M655.8 259.4v3.3M679.4 455.3v-3.3M679.4 259.4v3.3M396.6 455.3h3.3M679.4 455.3h-3.3M396.6 437.5h3.3M679.4 437.5h-3.3M396.6 419.7h3.3M679.4 419.7h-3.3M396.6 401.9h3.3M679.4 401.9h-3.3M396.6 384.1h3.3M679.4 384.1h-3.3M396.6 366.3h3.3M679.4 366.3h-3.3M396.6 348.4h3.3M679.4 348.4h-3.3M396.6 330.6h3.3M679.4 330.6h-3.3M396.6 312.8h3.3M679.4 312.8h-3.3M396.6 295h3.3M679.4 295h-3.3M396.6 277.2h3.3M679.4 277.2h-3.3M396.6 259.4h3.3M679.4 259.4h-3.3" stroke="#4a4a4a" stroke-width="0.75" fill="none"/>
<g font-size="11" fill="#262626" text-anchor="middle">
<text x="396.1" y="470.8">0</text>
<text x="419.7" y="470.8">5</text>
<text x="443.2" y="470.8">10</text>
<text x="466.8" y="470.8">15</text>
<text x="490.4" y="470.8">20</text>
<text x="513.9" y="470.8">25</text>
<text x="537.5" y="470.8">30</text>
<text x="561.1" y="470.8">35</text>
<text x="584.6" y="470.8">40</text>
<text x="608.2" y="470.8">45</text>
<text x="631.8" y="470.8">50</text>
<text x="655.3" y="470.8">55</text>
<text x="678.9" y="470.8">60</text>
</g>
<g font-size="11" fill="#262626" text-anchor="end">
<text x="391.3" y="460.1">0</text>
<text x="391.3" y="442.3">10</text>
<text x="391.3" y="424.5">20</text>
<text x="391.3" y="406.7">30</text>
<text x="391.3" y="388.9">40</text>
<text x="391.3" y="371.1">50</text>
<text x="391.3" y="353.2">60</text>
<text x="391.3" y="335.4">70</text>
<text x="391.3" y="317.6">80</text>
<text x="391.3" y="299.8">90</text>
<text x="391.3" y="282">100</text>
<text x="391.3" y="264.2">110</text>
</g>
<text x="538" y="486.4" font-size="12.1" fill="#262626" text-anchor="middle">Time [min]</text>
<text transform="translate(368.2,357.4) rotate(-90)" font-size="12.1" fill="#262626" text-anchor="middle">Char Depth (300°C Isotherm) [mm]</text>
<text x="645.3" y="280.7" font-size="10" font-weight="bold" fill="#262626">(b)(ii)</text>
<rect x="404" y="266.5" width="208.6" height="71.5" fill="#fff" stroke="#4a4a4a" stroke-width="0.6"/>
<path d="M404 283.8H612.6" stroke="#4a4a4a" stroke-width="0.6"/>
<text x="508.3" y="281.2" font-size="9.9" font-weight="bold" fill="#262626" text-anchor="middle">Heating Condition: 50 kW/m<tspan font-size="7.7" dx="0.9" dy="-5.6">2</tspan></text>
<path d="M406.4 291.5H434.1" stroke="#ff0000" stroke-width="1.1" stroke-dasharray="4.4 1.1 2.2 1.2"/>
<text x="436" y="296.2" font-size="10" fill="#262626">Bare Timber</text>
<path d="M406.4 304.5H434.1" stroke="#edb120" stroke-width="1.2" stroke-dasharray="4.5 4.4"/>
<text x="436" y="309.3" font-size="10" fill="#262626">Coating B - Low DFT (1.08 ± 0.10 mm)</text>
<path d="M406.4 317.5H434.1" stroke="#40c828" stroke-width="1.9" stroke-dasharray="1.9 1.37"/>
<text x="436" y="322.4" font-size="10" fill="#262626">Coating B - Med DFT (1.72 ± 0.12 mm</text>
<path d="M406.4 330.5H434.1" stroke="#0000ff" stroke-width="1.3"/>
<text x="436" y="335.3" font-size="10" fill="#262626">Coating B - High DFT (2.25 ± 0.15 mm)</text>
<clipPath id="cp20"><rect x="39" y="513.4" width="282.9" height="194.5"/></clipPath>
<clipPath id="cl20"><rect x="38.5" y="511.9" width="283.9" height="197.5"/></clipPath>
<g clip-path="url(#cp20)">
<polygon points="39.8,707.9 42.2,701.6 44.5,697.1 46.9,694.4 49.2,692.9 51.6,692.1 53.9,691.5 56.3,690.6 58.7,689 61,687.2 63.4,685.1 65.7,682.7 68.1,680 70.4,676.9 72.8,673.6 75.2,670.6 77.5,667.9 79.9,665.7 82.2,663.9 84.6,662.5 87,661.4 89.3,660.6 91.7,659.9 94,659.3 96.4,658.9 98.7,658.5 101.1,658.2 103.5,657.9 105.8,657.8 108.2,657.6 110.5,657.5 112.9,657.2 115.2,656.3 117.6,654.6 120,652.2 122.3,649.4 124.7,646.8 127,644.6 129.4,642.9 131.7,641.5 134.1,640.4 136.5,639.4 138.8,638.6 141.2,637.7 143.5,636.8 145.9,636.1 148.2,635.8 150.6,635.7 153,635.5 155.3,635.3 157.7,634.9 160,634.5 162.4,633.9 164.7,633 167.1,631.9 169.5,630.7 171.8,629.9 174.2,629.2 176.5,628.7 178.9,628.3 181.3,628.1 183.6,628.1 186,628 188.3,628 190.7,627.9 193,627.8 195.4,627.6 197.8,627.5 200.1,627.2 202.5,626.9 204.8,626.4 207.2,625.5 209.5,624.4 211.9,623.3 214.3,622.2 216.6,620.9 219,619.6 221.3,618.3 223.7,616.7 226,614.8 228.4,612.6 230.8,610.4 233.1,608 235.5,605.5 237.8,603.3 240.2,601.7 242.5,600.5 244.9,599.3 247.3,598.4 249.6,597.7 252,597.2 254.3,596.7 256.7,596.2 259,595.7 261.4,595.2 263.8,594.7 266.1,594.2 268.5,593.8 270.8,593.4 273.2,593 275.6,592.7 277.9,592.4 280.3,592.2 282.6,592 285,591.8 287.3,591.7 289.7,591.4 292.1,591.1 294.4,590.8 296.8,590.4 299.1,589.9 301.5,589.4 303.8,588.8 306.2,588.1 308.6,587.3 310.9,586.4 313.3,585.5 315.6,584.6 318,583.8 320.3,583.1 321.4,582.8 321.4,601 319.6,601.4 317.2,601.9 314.9,602.5 312.5,603.2 310.2,604 307.8,604.7 305.4,605.6 303.1,606.5 300.7,607.4 298.4,608.4 296,609.5 293.7,610.7 291.3,611.9 288.9,613.4 286.6,615.3 284.2,617.6 281.9,619.7 279.5,621.1 277.2,621.7 274.8,622 272.4,622.3 270.1,622.6 267.7,622.9 265.4,623.1 263,623.4 260.7,623.6 258.3,623.8 255.9,624.1 253.6,624.3 251.2,624.5 248.9,624.8 246.5,625 244.1,625.2 241.8,625.5 239.4,625.7 237.1,625.9 234.7,626.2 232.4,626.3 230,626.4 227.6,626.4 225.3,626.4 222.9,626.4 220.6,626.5 218.2,626.6 215.9,626.8 213.5,627 211.1,627.3 208.8,627.5 206.4,627.8 204.1,628.1 201.7,628.5 199.4,628.9 197,629.3 194.6,629.6 192.3,630.4 189.9,632.4 187.6,636 185.2,639.3 182.9,641.2 180.5,642.5 178.1,643.6 175.8,644.6 173.4,645.5 171.1,646.5 168.7,647.4 166.4,648.3 164,649.3 161.6,650.2 159.3,651 156.9,651.9 154.6,652.7 152.2,653.6 149.8,654.4 147.5,655.3 145.1,656.1 142.8,656.8 140.4,657.5 138.1,658.2 135.7,658.9 133.3,659.6 131,660.3 128.6,661 126.3,661.8 123.9,662.6 121.6,663.5 119.2,664.3 116.8,665.1 114.5,665.9 112.1,666.8 109.8,667.7 107.4,668.8 105.1,669.8 102.7,670.8 100.3,671.7 98,672.5 95.6,673.3 93.3,674.2 90.9,675.2 88.6,676.1 86.2,677.1 83.8,678.1 81.5,679.1 79.1,680.1 76.8,681.2 74.4,682.2 72.1,683.1 69.7,684 67.3,685 65,686.2 62.6,687.4 60.3,688.8 57.9,690.4 55.5,692.3 53.2,695.2 50.8,698.8 48.5,702.5 46.1,705.2 43.8,706.8 41.4,707.9" fill="#ff0000" fill-opacity="0.2"/>
<polygon points="63.1,707.9 65.5,706.9 67.8,705.9 70.2,704.9 72.5,703.8 74.9,702.7 77.2,701.6 79.6,700.5 82,699.4 84.3,698.3 86.7,697.3 89,696.3 91.4,695.3 93.7,694.4 96.1,693.5 98.5,692.7 100.8,691.9 103.2,691.2 105.5,690.4 107.9,689.7 110.2,689 112.6,688.3 115,687.6 117.3,687 119.7,686.3 122,685.6 124.4,685 126.7,684.4 129.1,683.7 131.5,683.1 133.8,682.4 136.2,681.8 138.5,681.1 140.9,680.4 143.2,679.7 145.6,679 148,678.3 150.3,677.7 152.7,677 155,676.4 157.4,675.7 159.8,675.1 162.1,674.5 164.5,673.9 166.8,673.3 169.2,672.7 171.5,672.1 173.9,671.5 176.3,671 178.6,670.4 181,669.9 183.3,669.4 185.7,668.9 188,668.4 190.4,667.9 192.8,667.5 195.1,667.1 197.5,666.6 199.8,666.2 202.2,665.8 204.5,665.4 206.9,665 209.3,664.6 211.6,664.1 214,663.6 216.3,663 218.7,662.4 221,661.8 223.4,661.1 225.8,660.5 228.1,659.8 230.5,659.2 232.8,658.6 235.2,658 237.5,657.4 239.9,656.9 242.3,656.4 244.6,655.9 247,655.4 249.3,654.9 251.7,654.3 254.1,653.8 256.4,653.2 258.8,652.6 261.1,652 263.5,651.4 265.8,650.7 268.2,650 270.6,649.2 272.9,648.4 275.3,647.5 277.6,646.6 280,645.7 282.3,644.6 284.7,643.5 287.1,642.4 289.4,641.2 291.8,639.9 294.1,638.6 296.5,637.4 298.8,636.2 301.2,635.1 303.6,634.1 305.9,633.2 308.3,632.4 310.6,631.7 313,631.1 315.3,630.6 317.7,630.1 320.1,629.7 321.4,629.3 321.4,643.4 321.1,643.7 318.7,644.3 316.4,644.9 314,645.5 311.7,646.1 309.3,646.8 307,647.5 304.6,648.2 302.2,648.9 299.9,649.7 297.5,650.5 295.2,651.4 292.8,652.2 290.5,653.1 288.1,653.9 285.7,654.8 283.4,655.5 281,656.2 278.7,656.9 276.3,657.6 273.9,658.2 271.6,658.8 269.2,659.4 266.9,660 264.5,660.6 262.2,661.2 259.8,661.8 257.4,662.3 255.1,662.9 252.7,663.4 250.4,663.9 248,664.3 245.7,664.8 243.3,665.2 240.9,665.6 238.6,666 236.2,666.4 233.9,666.8 231.5,667.3 229.2,667.8 226.8,668.3 224.4,668.8 222.1,669.4 219.7,669.9 217.4,670.5 215,671 212.7,671.5 210.3,671.9 207.9,672.4 205.6,672.9 203.2,673.3 200.9,673.7 198.5,674.2 196.2,674.6 193.8,675 191.4,675.4 189.1,675.9 186.7,676.3 184.4,676.8 182,677.2 179.6,677.7 177.3,678.2 174.9,678.7 172.6,679.2 170.2,679.7 167.9,680.3 165.5,680.9 163.1,681.6 160.8,682.3 158.4,683 156.1,683.8 153.7,684.6 151.4,685.5 149,686.3 146.6,687.2 144.3,688.1 141.9,689 139.6,689.9 137.2,690.8 134.9,691.7 132.5,692.5 130.1,693.3 127.8,694.1 125.4,694.8 123.1,695.6 120.7,696.3 118.4,697 116,697.7 113.6,698.4 111.3,699.1 108.9,699.8 106.6,700.5 104.2,701.2 101.9,701.9 99.5,702.5 97.1,703.2 94.8,703.8 92.4,704.3 90.1,704.9 87.7,705.4 85.3,705.9 83,706.4 80.6,706.9 78.3,707.4 75.9,707.9" fill="#edb120" fill-opacity="0.2"/>
<polygon points="67.9,707.9 70.3,707.1 72.6,706.3 75,705.5 77.3,704.7 79.7,703.9 82,703.2 84.4,702.4 86.8,701.7 89.1,701.1 91.5,700.4 93.8,699.8 96.2,699.2 98.6,698.6 100.9,698.1 103.3,697.6 105.6,697.1 108,696.6 110.3,696.1 112.7,695.6 115.1,695.1 117.4,694.7 119.8,694.2 122.1,693.6 124.5,693.1 126.8,692.6 129.2,692 131.6,691.5 133.9,691 136.3,690.5 138.6,690 141,689.5 143.3,689.1 145.7,688.7 148.1,688.2 150.4,687.8 152.8,687.4 155.1,687 157.5,686.6 159.8,686.1 162.2,685.7 164.6,685.2 166.9,684.8 169.3,684.3 171.6,683.9 174,683.4 176.3,682.9 178.7,682.5 181.1,682 183.4,681.5 185.8,681.1 188.1,680.6 190.5,680.1 192.9,679.6 195.2,679.2 197.6,678.7 199.9,678.2 202.3,677.7 204.6,677.2 207,676.7 209.4,676.2 211.7,675.7 214.1,675.1 216.4,674.5 218.8,673.8 221.1,673.1 223.5,672.5 225.9,671.8 228.2,671.1 230.6,670.5 232.9,669.8 235.3,669.3 237.6,668.7 240,668.2 242.4,667.7 244.7,667.2 247.1,666.7 249.4,666.3 251.8,665.8 254.1,665.3 256.5,664.8 258.9,664.4 261.2,663.9 263.6,663.4 265.9,663 268.3,662.5 270.6,662 273,661.5 275.4,661.1 277.7,660.6 280.1,660.1 282.4,659.6 284.8,659 287.2,658.4 289.5,657.8 291.9,657.2 294.2,656.5 296.6,655.7 298.9,654.9 301.3,654 303.7,653 306,652.1 308.4,651 310.7,649.9 313.1,648.8 315.4,647.7 317.8,646.6 320.2,645.5 321.4,644.3 321.4,660.3 319.6,660.7 317.2,661.1 314.9,661.4 312.5,661.8 310.2,662.1 307.8,662.4 305.4,662.8 303.1,663.1 300.7,663.4 298.4,663.7 296,664 293.7,664.3 291.3,664.7 288.9,665 286.6,665.3 284.2,665.7 281.9,666 279.5,666.4 277.2,666.8 274.8,667.2 272.4,667.6 270.1,668.1 267.7,668.5 265.4,669 263,669.6 260.7,670.1 258.3,670.7 255.9,671.2 253.6,671.8 251.2,672.3 248.9,672.8 246.5,673.4 244.1,673.9 241.8,674.4 239.4,674.9 237.1,675.4 234.7,675.9 232.4,676.5 230,677.1 227.6,677.7 225.3,678.3 222.9,679 220.6,679.6 218.2,680.2 215.9,680.8 213.5,681.4 211.1,682 208.8,682.5 206.4,683 204.1,683.5 201.7,684 199.4,684.4 197,684.9 194.6,685.4 192.3,685.9 189.9,686.3 187.6,686.8 185.2,687.3 182.9,687.8 180.5,688.3 178.1,688.8 175.8,689.3 173.4,689.8 171.1,690.3 168.7,690.8 166.4,691.3 164,691.8 161.6,692.3 159.3,692.8 156.9,693.3 154.6,693.9 152.2,694.4 149.8,694.9 147.5,695.4 145.1,696 142.8,696.5 140.4,697.1 138.1,697.7 135.7,698.3 133.3,698.9 131,699.5 128.6,700.1 126.3,700.7 123.9,701.2 121.6,701.8 119.2,702.3 116.8,702.7 114.5,703.2 112.1,703.6 109.8,704 107.4,704.4 105.1,704.8 102.7,705.1 100.3,705.5 98,705.8 95.6,706.1 93.3,706.4 90.9,706.7 88.6,706.9 86.2,707.2 83.8,707.4 81.5,707.7 79.1,707.9" fill="#40c828" fill-opacity="0.2"/>
<polygon points="95.2,707.9 97.6,707.4 99.9,707 102.3,706.5 104.6,706.1 107,705.6 109.3,705.1 111.7,704.7 114.1,704.2 116.4,703.8 118.8,703.3 121.1,702.9 123.5,702.4 125.9,702 128.2,701.5 130.6,701.1 132.9,700.6 135.3,700.2 137.6,699.8 140,699.4 142.4,698.9 144.7,698.5 147.1,698.1 149.4,697.7 151.8,697.3 154.1,696.9 156.5,696.4 158.9,696 161.2,695.5 163.6,695.1 165.9,694.7 168.3,694.2 170.6,693.8 173,693.3 175.4,692.9 177.7,692.5 180.1,692.1 182.4,691.6 184.8,691.2 187.1,690.8 189.5,690.4 191.9,690 194.2,689.6 196.6,689.3 198.9,688.9 201.3,688.5 203.6,688.1 206,687.7 208.4,687.4 210.7,687 213.1,686.7 215.4,686.3 217.8,686 220.2,685.7 222.5,685.4 224.9,685.1 227.2,684.8 229.6,684.5 231.9,684.2 234.3,683.8 236.7,683.5 239,683.1 241.4,682.7 243.7,682.2 246.1,681.8 248.4,681.4 250.8,681 253.2,680.5 255.5,680.1 257.9,679.7 260.2,679.2 262.6,678.8 264.9,678.4 267.3,677.9 269.7,677.5 272,677.1 274.4,676.6 276.7,676.2 279.1,675.8 281.4,675.4 283.8,674.9 286.2,674.5 288.5,674.1 290.9,673.6 293.2,673.2 295.6,672.8 297.9,672.3 300.3,671.9 302.7,671.5 305,671 307.4,670.6 309.7,670.2 312.1,669.7 314.5,669.3 316.8,668.9 319.2,668.5 321.4,668 321.4,669.5 319.7,669.9 317.3,670.4 315,670.8 312.6,671.2 310.3,671.6 307.9,672 305.5,672.5 303.2,672.9 300.8,673.3 298.5,673.7 296.1,674.2 293.8,674.6 291.4,675 289,675.5 286.7,675.9 284.3,676.3 282,676.8 279.6,677.2 277.2,677.6 274.9,678.1 272.5,678.5 270.2,678.9 267.8,679.4 265.5,679.8 263.1,680.2 260.7,680.7 258.4,681.1 256,681.5 253.7,681.9 251.3,682.4 249,682.8 246.6,683.2 244.2,683.7 241.9,684.1 239.5,684.5 237.2,684.9 234.8,685.3 232.5,685.6 230.1,685.9 227.7,686.2 225.4,686.5 223,686.8 220.7,687.1 218.3,687.4 216,687.7 213.6,688 211.2,688.3 208.9,688.7 206.5,689 204.2,689.4 201.8,689.8 199.5,690.2 197.1,690.6 194.7,691 192.4,691.4 190,691.7 187.7,692.2 185.3,692.6 182.9,693 180.6,693.4 178.2,693.8 175.9,694.3 173.5,694.8 171.2,695.2 168.8,695.7 166.4,696.2 164.1,696.7 161.7,697.2 159.4,697.7 157,698.2 154.7,698.7 152.3,699.2 149.9,699.8 147.6,700.3 145.2,701 142.9,701.6 140.5,702.3 138.2,703.1 135.8,703.8 133.4,704.6 131.1,705.3 128.7,705.9 126.4,706.5 124,707 121.7,707.5 119.3,707.9" fill="#0000ff" fill-opacity="0.2"/>
</g>
<g clip-path="url(#cl20)">
<polyline points="39.8,707.9 42.2,706 44.5,703.9 46.9,701.6 49.2,699 51.6,696.2 53.9,693.5 56.3,691.2 58.7,689.3 61,687.7 63.4,686.1 65.7,684.5 68.1,682.8 70.4,680.9 72.8,679 75.2,677 77.5,675.3 79.9,673.7 82.2,672.4 84.6,671.1 87,670 89.3,668.9 91.7,668 94,667.3 96.4,666.6 98.7,665.9 101.1,665.2 103.5,664.4 105.8,663.4 108.2,662.4 110.5,661.4 112.9,660.4 115.2,659.1 117.6,657.7 120,656.1 122.3,654.6 124.7,653.2 127,651.9 129.4,650.8 131.7,649.8 134.1,648.9 136.5,648.1 138.8,647.3 141.2,646.6 143.5,646.1 145.9,645.6 148.2,644.9 150.6,644 153,643.2 155.3,642.4 157.7,641.7 160,641 162.4,640.3 164.7,639.6 167.1,638.9 169.5,638.2 171.8,637.5 174.2,636.8 176.5,636.1 178.9,635.3 181.3,634.6 183.6,633.6 186,632.2 188.3,630.5 190.7,629 193,628.1 195.4,627.6 197.8,627.2 200.1,627.1 202.5,626.9 204.8,626.5 207.2,625.9 209.5,625.2 211.9,624.4 214.3,623.7 216.6,623 219,622.3 221.3,621.7 223.7,621.1 226,620.5 228.4,620 230.8,619.4 233.1,618.9 235.5,618.4 237.8,617.8 240.2,617.2 242.5,616.3 244.9,615.1 247.3,613.8 249.6,612.5 252,611.4 254.3,610.4 256.7,609.4 259,608.5 261.4,607.8 263.8,607.2 266.1,606.6 268.5,606.1 270.8,605.6 273.2,605.3 275.6,605 277.9,604.6 280.3,604.2 282.6,603.6 285,602.8 287.3,602 289.7,601.2 292.1,600.3 294.4,599.5 296.8,598.6 299.1,597.9 301.5,597.1 303.8,596.4 306.2,595.7 308.6,595.1 310.9,594.5 313.3,593.8 315.6,593.2 318,592.6 320.3,592 321.4,591.6" fill="none" stroke="#ff0000" stroke-width="1.1" stroke-dasharray="4.4 1.1 2.2 1.2" stroke-linejoin="round"/>
<polyline points="66.3,707.9 68.7,707 71,706.1 73.4,705.2 75.7,704.3 78.1,703.4 80.4,702.5 82.8,701.7 85.2,700.8 87.5,700 89.9,699.3 92.2,698.5 94.6,697.8 96.9,697.1 99.3,696.4 101.7,695.7 104,695.1 106.4,694.4 108.7,693.8 111.1,693.2 113.4,692.6 115.8,691.9 118.2,691.3 120.5,690.6 122.9,689.9 125.2,689.2 127.6,688.5 130,687.8 132.3,687 134.7,686.2 137,685.3 139.4,684.5 141.7,683.6 144.1,682.7 146.5,681.8 148.8,681 151.2,680.1 153.5,679.4 155.9,678.7 158.2,678 160.6,677.4 163,676.8 165.3,676.2 167.7,675.7 170,675.1 172.4,674.6 174.7,674.1 177.1,673.6 179.5,673.1 181.8,672.6 184.2,672.1 186.5,671.7 188.9,671.2 191.2,670.8 193.6,670.3 196,669.9 198.3,669.5 200.7,669.1 203,668.7 205.4,668.3 207.7,667.9 210.1,667.5 212.5,667.1 214.8,666.6 217.2,666.1 219.5,665.5 221.9,665 224.3,664.4 226.6,663.7 229,663.1 231.3,662.5 233.7,661.9 236,661.3 238.4,660.8 240.8,660.2 243.1,659.7 245.5,659.1 247.8,658.6 250.2,658 252.5,657.5 254.9,656.9 257.3,656.3 259.6,655.6 262,655 264.3,654.3 266.7,653.6 269,652.9 271.4,652.2 273.8,651.5 276.1,650.8 278.5,650 280.8,649.2 283.2,648.3 285.5,647.4 287.9,646.4 290.3,645.4 292.6,644.3 295,643.3 297.3,642.2 299.7,641.2 302,640.2 304.4,639.4 306.8,638.6 309.1,637.8 311.5,637.2 313.8,636.6 316.2,636.1 318.6,635.6 320.9,635.2 321.4,634.9" fill="none" stroke="#edb120" stroke-width="1.2" stroke-dasharray="4.5 4.4" stroke-linejoin="round"/>
<polyline points="39,707.9 41.4,707.9 43.7,707.9 46.1,707.9 48.4,707.9 50.8,707.9 53.1,707.9 55.5,707.9 57.9,707.9 60.2,707.9 62.6,707.9 64.9,707.9 67.3,707.3 69.6,707 72,706.7 74.4,706.3 76.7,705.9 79.1,705.5 81.4,705.1 83.8,704.6 86.2,704.1 88.5,703.7 90.9,703.2 93.2,702.7 95.6,702.3 97.9,701.8 100.3,701.3 102.7,700.8 105,700.4 107.4,699.9 109.7,699.4 112.1,699 114.4,698.5 116.8,698 119.2,697.5 121.5,697 123.9,696.5 126.2,696 128.6,695.5 130.9,694.9 133.3,694.4 135.7,693.9 138,693.4 140.4,692.9 142.7,692.4 145.1,691.9 147.4,691.4 149.8,690.9 152.2,690.4 154.5,689.9 156.9,689.5 159.2,689 161.6,688.5 163.9,688 166.3,687.6 168.7,687.1 171,686.6 173.4,686.2 175.7,685.7 178.1,685.2 180.4,684.7 182.8,684.3 185.2,683.8 187.5,683.3 189.9,682.9 192.2,682.4 194.6,681.9 197,681.4 199.3,681 201.7,680.5 204,680 206.4,679.5 208.7,679 211.1,678.4 213.5,677.9 215.8,677.3 218.2,676.7 220.5,676 222.9,675.3 225.2,674.7 227.6,674 230,673.4 232.3,672.8 234.7,672.2 237,671.7 239.4,671.1 241.7,670.6 244.1,670.1 246.5,669.7 248.8,669.2 251.2,668.7 253.5,668.2 255.9,667.8 258.2,667.3 260.6,666.8 263,666.4 265.3,666 267.7,665.5 270,665.1 272.4,664.7 274.8,664.3 277.1,663.9 279.5,663.5 281.8,663.1 284.2,662.7 286.5,662.3 288.9,661.8 291.3,661.3 293.6,660.7 296,660.1 298.3,659.4 300.7,658.7 303,657.9 305.4,657.1 307.8,656.2 310.1,655.3 312.5,654.4 314.8,653.4 317.2,652.5 319.5,651.5 321.4,650.5" fill="none" stroke="#40c828" stroke-width="1.9" stroke-dasharray="1.9 1.37" stroke-linejoin="round"/>
<polyline points="39,707.9 41.4,707.9 43.7,707.9 46.1,707.9 48.4,707.9 50.8,707.9 53.1,707.9 55.5,707.9 57.9,707.9 60.2,707.9 62.6,707.9 64.9,707.9 67.3,707.9 69.6,707.9 72,707.9 74.4,707.9 76.7,707.9 79.1,707.9 81.4,707.9 83.8,707.9 86.2,707.9 88.5,707.9 90.9,707.9 93.2,707.9 95.6,707.9 97.9,707.9 100.3,707.9 102.7,707.9 105,707.4 107.4,707.2 109.7,707 112.1,706.8 114.4,706.5 116.8,706.2 119.2,705.9 121.5,705.6 123.9,705.2 126.2,704.7 128.6,704.2 130.9,703.6 133.3,703 135.7,702.4 138,701.7 140.4,701.1 142.7,700.5 145.1,699.9 147.4,699.3 149.8,698.8 152.2,698.3 154.5,697.8 156.9,697.3 159.2,696.9 161.6,696.4 163.9,695.9 166.3,695.4 168.7,695 171,694.5 173.4,694 175.7,693.6 178.1,693.1 180.4,692.7 182.8,692.3 185.2,691.8 187.5,691.4 189.9,691 192.2,690.6 194.6,690.2 197,689.8 199.3,689.4 201.7,689.1 204,688.7 206.4,688.3 208.7,688 211.1,687.6 213.5,687.3 215.8,687 218.2,686.7 220.5,686.4 222.9,686.1 225.2,685.8 227.6,685.5 230,685.2 232.3,684.9 234.7,684.6 237,684.2 239.4,683.9 241.7,683.5 244.1,683.1 246.5,682.7 248.8,682.3 251.2,681.9 253.5,681.5 255.9,681.1 258.2,680.7 260.6,680.3 263,679.9 265.3,679.5 267.7,679.1 270,678.8 272.4,678.4 274.8,678 277.1,677.7 279.5,677.3 281.8,676.9 284.2,676.6 286.5,676.2 288.9,675.8 291.3,675.4 293.6,675 296,674.6 298.3,674.1 300.7,673.7 303,673.2 305.4,672.7 307.8,672.2 310.1,671.7 312.5,671.1 314.8,670.5 317.2,670 319.5,669.4 321.4,668.8" fill="none" stroke="#0000ff" stroke-width="1.3" stroke-linejoin="round"/>
</g>
<rect x="39" y="513.4" width="282.9" height="194.5" fill="none" stroke="#4a4a4a" stroke-width="0.6"/>
<path d="M39 707.9v-3.3M39 513.4v3.3M62.6 707.9v-3.3M62.6 513.4v3.3M86.2 707.9v-3.3M86.2 513.4v3.3M109.7 707.9v-3.3M109.7 513.4v3.3M133.3 707.9v-3.3M133.3 513.4v3.3M156.9 707.9v-3.3M156.9 513.4v3.3M180.4 707.9v-3.3M180.4 513.4v3.3M204 707.9v-3.3M204 513.4v3.3M227.6 707.9v-3.3M227.6 513.4v3.3M251.2 707.9v-3.3M251.2 513.4v3.3M274.8 707.9v-3.3M274.8 513.4v3.3M298.3 707.9v-3.3M298.3 513.4v3.3M321.9 707.9v-3.3M321.9 513.4v3.3M39 707.9h3.3M321.9 707.9h-3.3M39 690.2h3.3M321.9 690.2h-3.3M39 672.5h3.3M321.9 672.5h-3.3M39 654.9h3.3M321.9 654.9h-3.3M39 637.2h3.3M321.9 637.2h-3.3M39 619.5h3.3M321.9 619.5h-3.3M39 601.8h3.3M321.9 601.8h-3.3M39 584.1h3.3M321.9 584.1h-3.3M39 566.4h3.3M321.9 566.4h-3.3M39 548.8h3.3M321.9 548.8h-3.3M39 531.1h3.3M321.9 531.1h-3.3M39 513.4h3.3M321.9 513.4h-3.3" stroke="#4a4a4a" stroke-width="0.75" fill="none"/>
<g font-size="11" fill="#262626" text-anchor="middle">
<text x="62.1" y="723.4">5</text>
<text x="85.7" y="723.4">10</text>
<text x="109.2" y="723.4">15</text>
<text x="132.8" y="723.4">20</text>
<text x="156.4" y="723.4">25</text>
<text x="179.9" y="723.4">30</text>
<text x="203.5" y="723.4">35</text>
<text x="227.1" y="723.4">40</text>
<text x="250.7" y="723.4">45</text>
<text x="274.2" y="723.4">50</text>
<text x="297.8" y="723.4">55</text>
<text x="321.4" y="723.4">60</text>
</g>
<g font-size="11" fill="#262626" text-anchor="end">
<text x="33.7" y="712.7">0</text>
<text x="33.7" y="695">10</text>
<text x="33.7" y="677.3">20</text>
<text x="33.7" y="659.7">30</text>
<text x="33.7" y="642">40</text>
<text x="33.7" y="624.3">50</text>
<text x="33.7" y="606.6">60</text>
<text x="33.7" y="588.9">70</text>
<text x="33.7" y="571.2">80</text>
<text x="33.7" y="553.6">90</text>
<text x="33.7" y="535.9">100</text>
<text x="33.7" y="518.2">110</text>
</g>
<text x="180.4" y="739" font-size="12.1" fill="#262626" text-anchor="middle">Time [min]</text>
<text transform="translate(10.6,610.6) rotate(-90)" font-size="12.1" fill="#262626" text-anchor="middle">Char Depth (300°C Isotherm) mm</text>
<text x="287.7" y="534.7" font-size="10" font-weight="bold" fill="#262626">(a)(iii)</text>
<rect x="46.4" y="520.5" width="208.6" height="71.5" fill="#fff" stroke="#4a4a4a" stroke-width="0.6"/>
<path d="M46.4 537.8H255" stroke="#4a4a4a" stroke-width="0.6"/>
<text x="150.7" y="535.2" font-size="9.9" font-weight="bold" fill="#262626" text-anchor="middle">Heating Condition: 75 kW/m<tspan font-size="7.7" dx="0.9" dy="-5.6">2</tspan></text>
<path d="M48.8 545.5H76.5" stroke="#ff0000" stroke-width="1.1" stroke-dasharray="4.4 1.1 2.2 1.2"/>
<text x="78.4" y="550.2" font-size="10" fill="#262626">Bare Timber</text>
<path d="M48.8 558.5H76.5" stroke="#edb120" stroke-width="1.2" stroke-dasharray="4.5 4.4"/>
<text x="78.4" y="563.3" font-size="10" fill="#262626">Coating A - Low DFT (1.18 ± 0.12 mm)</text>
<path d="M48.8 571.5H76.5" stroke="#40c828" stroke-width="1.9" stroke-dasharray="1.9 1.37"/>
<text x="78.4" y="576.4" font-size="10" fill="#262626">Coating A - Med DFT (1.57 ± 0.10 mm)</text>
<path d="M48.8 584.5H76.5" stroke="#0000ff" stroke-width="1.3"/>
<text x="78.4" y="589.3" font-size="10" fill="#262626">Coating A - High DFT (2.45 ± 0.15 mm)</text>
<clipPath id="cp21"><rect x="396.4" y="512.4" width="283" height="196.8"/></clipPath>
<clipPath id="cl21"><rect x="395.9" y="510.9" width="284" height="199.8"/></clipPath>
<g clip-path="url(#cp21)">
<polygon points="397.2,709.2 399.6,702.8 401.9,698.2 404.3,695.5 406.6,694 409,693.2 411.4,692.6 413.7,691.6 416.1,690.1 418.4,688.2 420.8,686.1 423.1,683.7 425.5,681 427.9,677.8 430.2,674.5 432.6,671.5 434.9,668.8 437.3,666.5 439.7,664.7 442,663.3 444.4,662.2 446.7,661.3 449.1,660.6 451.4,660.1 453.8,659.6 456.2,659.2 458.5,658.9 460.9,658.6 463.2,658.5 465.6,658.3 468,658.2 470.3,657.9 472.7,657 475,655.3 477.4,652.8 479.7,650 482.1,647.3 484.5,645.2 486.8,643.4 489.2,642.1 491.5,640.9 493.9,639.9 496.3,639 498.6,638.2 501,637.2 503.3,636.6 505.7,636.3 508,636.1 510.4,636 512.8,635.7 515.1,635.4 517.5,634.9 519.8,634.3 522.2,633.4 524.6,632.3 526.9,631.1 529.3,630.2 531.6,629.6 534,629.1 536.3,628.7 538.7,628.5 541.1,628.4 543.4,628.4 545.8,628.4 548.1,628.3 550.5,628.1 552.9,628 555.2,627.8 557.6,627.6 559.9,627.3 562.3,626.7 564.6,625.8 567,624.7 569.4,623.6 571.7,622.5 574.1,621.2 576.4,619.9 578.8,618.5 581.2,616.9 583.5,615 585.9,612.8 588.2,610.5 590.6,608.1 592.9,605.6 595.3,603.4 597.7,601.8 600,600.5 602.4,599.4 604.7,598.4 607.1,597.7 609.5,597.2 611.8,596.7 614.2,596.1 616.5,595.6 618.9,595.1 621.2,594.7 623.6,594.2 626,593.7 628.3,593.3 630.7,593 633,592.6 635.4,592.3 637.8,592.1 640.1,591.9 642.5,591.8 644.8,591.6 647.2,591.4 649.5,591.1 651.9,590.7 654.3,590.3 656.6,589.9 659,589.3 661.3,588.7 663.7,588 666.1,587.2 668.4,586.3 670.8,585.3 673.1,584.4 675.5,583.6 677.8,582.9 678.9,582.6 678.9,601.1 677.1,601.5 674.7,602 672.4,602.6 670,603.3 667.7,604 665.3,604.8 662.9,605.7 660.6,606.6 658.2,607.6 655.9,608.6 653.5,609.7 651.1,610.8 648.8,612.1 646.4,613.5 644.1,615.5 641.7,617.8 639.4,620 637,621.3 634.6,621.9 632.3,622.3 629.9,622.6 627.6,622.9 625.2,623.2 622.8,623.4 620.5,623.7 618.1,623.9 615.8,624.1 613.4,624.4 611.1,624.6 608.7,624.8 606.3,625.1 604,625.3 601.6,625.6 599.3,625.8 596.9,626 594.5,626.3 592.2,626.5 589.8,626.7 587.5,626.7 585.1,626.7 582.8,626.7 580.4,626.7 578,626.8 575.7,627 573.3,627.1 571,627.3 568.6,627.6 566.2,627.9 563.9,628.2 561.5,628.5 559.2,628.9 556.8,629.3 554.5,629.6 552.1,630 549.7,630.8 547.4,632.8 545,636.4 542.7,639.8 540.3,641.7 537.9,643 535.6,644.1 533.2,645.1 530.9,646.1 528.5,647 526.2,648 523.8,648.9 521.4,649.9 519.1,650.8 516.7,651.7 514.4,652.5 512,653.4 509.6,654.2 507.3,655.1 504.9,655.9 502.6,656.8 500.2,657.5 497.9,658.2 495.5,658.9 493.1,659.6 490.8,660.3 488.4,661 486.1,661.7 483.7,662.5 481.3,663.4 479,664.2 476.6,665.1 474.3,665.9 471.9,666.7 469.6,667.6 467.2,668.6 464.8,669.6 462.5,670.7 460.1,671.7 457.8,672.5 455.4,673.4 453,674.2 450.7,675.1 448.3,676.1 446,677 443.6,678 441.3,679 438.9,680 436.5,681.1 434.2,682.1 431.8,683.2 429.5,684.1 427.1,685 424.7,686.1 422.4,687.2 420,688.5 417.7,689.9 415.3,691.5 413,693.5 410.6,696.3 408.2,700 405.9,703.7 403.5,706.5 401.2,708.1 398.8,709.2" fill="#ff0000" fill-opacity="0.2"/>
<polygon points="439.6,707.5 441.9,706.3 444.3,705.2 446.6,704 449,702.8 451.3,701.7 453.7,700.6 456.1,699.5 458.4,698.4 460.8,697.4 463.1,696.4 465.5,695.4 467.9,694.4 470.2,693.5 472.6,692.7 474.9,691.8 477.3,691 479.6,690.2 482,689.5 484.4,688.7 486.7,688 489.1,687.4 491.4,686.7 493.8,686.1 496.2,685.5 498.5,684.9 500.9,684.3 503.2,683.8 505.6,683.3 507.9,682.7 510.3,682.2 512.7,681.7 515,681.2 517.4,680.7 519.7,680.2 522.1,679.7 524.5,679.1 526.8,678.6 529.2,678 531.5,677.3 533.9,676.7 536.2,676 538.6,675.3 541,674.6 543.3,673.8 545.7,673.1 548,672.3 550.4,671.5 552.8,670.8 555.1,670 557.5,669.3 559.8,668.6 562.2,668 564.5,667.5 566.9,667 569.3,666.5 571.6,666 574,665.6 576.3,665.2 578.7,664.8 581.1,664.3 583.4,663.9 585.8,663.5 588.1,663.1 590.5,662.7 592.8,662.2 595.2,661.8 597.6,661.3 599.9,660.9 602.3,660.4 604.6,660 607,659.5 609.4,659 611.7,658.6 614.1,658.1 616.4,657.6 618.8,657.1 621.1,656.7 623.5,656.2 625.9,655.7 628.2,655.2 630.6,654.7 632.9,654.2 635.3,653.7 637.7,653.2 640,652.6 642.4,652.1 644.7,651.6 647.1,651.1 649.4,650.5 651.8,650 654.2,649.5 656.5,648.9 658.9,648.4 661.2,647.8 663.6,647.2 666,646.6 668.3,646 670.7,645.4 673,644.7 675.4,644.1 677.7,643.5 678.3,643.1 678.3,654 677.6,654.2 675.2,654.7 672.9,655.1 670.5,655.6 668.2,656 665.8,656.5 663.5,657 661.1,657.4 658.7,657.9 656.4,658.4 654,658.9 651.7,659.3 649.3,659.8 646.9,660.3 644.6,660.7 642.2,661.2 639.9,661.7 637.5,662.2 635.2,662.6 632.8,663.1 630.4,663.6 628.1,664 625.7,664.5 623.4,665 621,665.5 618.6,665.9 616.3,666.4 613.9,666.9 611.6,667.3 609.2,667.8 606.9,668.3 604.5,668.8 602.1,669.2 599.8,669.7 597.4,670.1 595.1,670.6 592.7,671 590.3,671.4 588,671.9 585.6,672.3 583.3,672.7 580.9,673.1 578.6,673.5 576.2,674 573.8,674.4 571.5,674.8 569.1,675.3 566.8,675.8 564.4,676.4 562,677.1 559.7,677.8 557.3,678.6 555,679.4 552.6,680.3 550.3,681.2 547.9,682.1 545.5,682.8 543.2,683.5 540.8,684.2 538.5,684.7 536.1,685.2 533.7,685.6 531.4,686 529,686.5 526.7,686.9 524.3,687.3 522,687.7 519.6,688.2 517.2,688.7 514.9,689.1 512.5,689.6 510.2,690.1 507.8,690.5 505.4,691 503.1,691.5 500.7,692 498.4,692.5 496,693 493.7,693.5 491.3,694 488.9,694.6 486.6,695.1 484.2,695.7 481.9,696.3 479.5,697 477.1,697.6 474.8,698.3 472.4,699 470.1,699.7 467.7,700.4 465.4,701.2 463,702 460.6,702.7 458.3,703.5 455.9,704.3 453.6,705.1 451.2,705.9 448.8,706.8 446.5,707.6 444.1,708.4 441.8,709.2" fill="#edb120" fill-opacity="0.2"/>
<polygon points="462.8,709.2 465.1,708.1 467.5,706.9 469.8,705.8 472.2,704.6 474.6,703.5 476.9,702.3 479.3,701.2 481.6,700.1 484,699 486.3,698 488.7,697 491.1,696 493.4,695.1 495.8,694.2 498.1,693.3 500.5,692.5 502.9,691.7 505.2,690.9 507.6,690.2 509.9,689.6 512.3,689 514.6,688.4 517,687.9 519.4,687.4 521.7,686.9 524.1,686.4 526.4,685.9 528.8,685.4 531.2,685 533.5,684.5 535.9,684 538.2,683.6 540.6,683.1 542.9,682.6 545.3,682.2 547.7,681.7 550,681.3 552.4,680.8 554.7,680.3 557.1,679.9 559.5,679.4 561.8,678.9 564.2,678.4 566.5,677.9 568.9,677.3 571.2,676.8 573.6,676.2 576,675.7 578.3,675.1 580.7,674.6 583,674 585.4,673.5 587.8,672.9 590.1,672.4 592.5,671.8 594.8,671.3 597.2,670.7 599.5,670.2 601.9,669.6 604.3,669.1 606.6,668.5 609,668 611.3,667.4 613.7,666.9 616.1,666.3 618.4,665.7 620.8,665.2 623.1,664.6 625.5,664.1 627.8,663.5 630.2,662.9 632.6,662.4 634.9,661.8 637.3,661.2 639.6,660.7 642,660.1 644.4,659.5 646.7,659 649.1,658.4 651.4,657.8 653.8,657.3 656.1,656.7 658.5,656.1 660.9,655.6 663.2,655 665.6,654.4 667.9,653.9 670.3,653.3 672.7,652.8 675,652.2 677.4,651.7 678.3,651.4 678.3,666.3 677.8,666.5 675.5,666.8 673.1,667.2 670.8,667.6 668.4,668 666.1,668.4 663.7,668.8 661.3,669.2 659,669.6 656.6,670 654.3,670.4 651.9,670.8 649.5,671.2 647.2,671.6 644.8,672 642.5,672.4 640.1,672.9 637.8,673.3 635.4,673.7 633,674.1 630.7,674.5 628.3,674.9 626,675.3 623.6,675.7 621.2,676.1 618.9,676.5 616.5,677 614.2,677.4 611.8,677.8 609.5,678.2 607.1,678.6 604.7,679 602.4,679.4 600,679.7 597.7,680.1 595.3,680.5 592.9,680.9 590.6,681.3 588.2,681.7 585.9,682.1 583.5,682.5 581.2,682.9 578.8,683.3 576.4,683.7 574.1,684.1 571.7,684.5 569.4,684.9 567,685.4 564.6,685.9 562.3,686.4 559.9,687 557.6,687.7 555.2,688.3 552.9,689.1 550.5,689.8 548.1,690.5 545.8,691.2 543.4,691.8 541.1,692.4 538.7,693 536.3,693.5 534,694.1 531.6,694.6 529.3,695.1 526.9,695.6 524.6,696.2 522.2,696.7 519.8,697.3 517.5,697.9 515.1,698.5 512.8,699 510.4,699.6 508,700.2 505.7,700.8 503.3,701.4 501,702 498.6,702.6 496.3,703.3 493.9,703.9 491.5,704.5 489.2,705.2 486.8,705.8 484.5,706.5 482.1,707.1 479.7,707.8 477.4,708.5 475,709.2" fill="#40c828" fill-opacity="0.2"/>
<polygon points="478.5,709.2 480.9,708.5 483.2,707.8 485.6,707.1 488,706.5 490.3,705.8 492.7,705.2 495,704.7 497.4,704.1 499.7,703.6 502.1,703.1 504.5,702.6 506.8,702.1 509.2,701.7 511.5,701.2 513.9,700.8 516.3,700.3 518.6,699.9 521,699.5 523.3,699.1 525.7,698.7 528,698.4 530.4,698 532.8,697.6 535.1,697.3 537.5,696.9 539.8,696.6 542.2,696.3 544.6,696 546.9,695.7 549.3,695.5 551.6,695.2 554,695 556.3,694.7 558.7,694.4 561.1,694 563.4,693.7 565.8,693.2 568.1,692.8 570.5,692.3 572.9,691.8 575.2,691.3 577.6,690.8 579.9,690.3 582.3,689.8 584.6,689.2 587,688.7 589.4,688.2 591.7,687.7 594.1,687.2 596.4,686.7 598.8,686.1 601.2,685.6 603.5,685.1 605.9,684.6 608.2,684.1 610.6,683.6 612.9,683.1 615.3,682.6 617.7,682.1 620,681.6 622.4,681.1 624.7,680.6 627.1,680.1 629.5,679.6 631.8,679.1 634.2,678.6 636.5,678.1 638.9,677.7 641.2,677.2 643.6,676.7 646,676.2 648.3,675.8 650.7,675.3 653,674.8 655.4,674.4 657.8,673.9 660.1,673.4 662.5,672.9 664.8,672.5 667.2,672 669.5,671.6 671.9,671.1 674.3,670.7 676.6,670.2 678.3,669.8 678.3,675 676.5,675.4 674.2,675.8 671.8,676.1 669.4,676.5 667.1,676.9 664.7,677.3 662.4,677.6 660,678 657.7,678.4 655.3,678.8 652.9,679.2 650.6,679.6 648.2,679.9 645.9,680.3 643.5,680.7 641.1,681.1 638.8,681.5 636.4,681.9 634.1,682.3 631.7,682.8 629.4,683.2 627,683.7 624.6,684.1 622.3,684.6 619.9,685.1 617.6,685.6 615.2,686.1 612.8,686.6 610.5,687.1 608.1,687.6 605.8,688.1 603.4,688.6 601.1,689.1 598.7,689.6 596.3,690.1 594,690.6 591.6,691.1 589.3,691.6 586.9,692.1 584.5,692.5 582.2,693 579.8,693.5 577.5,694 575.1,694.4 572.8,694.9 570.4,695.4 568,695.9 565.7,696.4 563.3,696.9 561,697.4 558.6,697.9 556.2,698.4 553.9,699 551.5,699.5 549.2,700.1 546.8,700.7 544.5,701.4 542.1,702.1 539.7,702.8 537.4,703.5 535,704.2 532.7,704.9 530.3,705.5 527.9,706.1 525.6,706.7 523.2,707.2 520.9,707.6 518.5,707.9 516.2,708.2 513.8,708.4 511.4,708.6 509.1,708.7 506.7,708.8 504.4,708.9 502,708.9 499.6,709 497.3,709.1 494.9,709.1 492.6,709.2" fill="#0000ff" fill-opacity="0.2"/>
</g>
<g clip-path="url(#cl21)">
<polyline points="397.2,709.2 399.6,707.2 401.9,705.1 404.3,702.8 406.6,700.2 409,697.4 411.4,694.6 413.7,692.3 416.1,690.4 418.4,688.7 420.8,687.1 423.1,685.5 425.5,683.8 427.9,681.9 430.2,679.9 432.6,678 434.9,676.2 437.3,674.6 439.7,673.3 442,672 444.4,670.8 446.7,669.8 449.1,668.9 451.4,668.1 453.8,667.4 456.2,666.7 458.5,666 460.9,665.2 463.2,664.2 465.6,663.2 468,662.1 470.3,661.1 472.7,659.9 475,658.4 477.4,656.8 479.7,655.3 482.1,653.8 484.5,652.6 486.8,651.4 489.2,650.4 491.5,649.5 493.9,648.7 496.3,647.9 498.6,647.1 501,646.6 503.3,646.1 505.7,645.4 508,644.6 510.4,643.7 512.8,643 515.1,642.2 517.5,641.5 519.8,640.8 522.2,640.1 524.6,639.4 526.9,638.7 529.3,637.9 531.6,637.2 534,636.5 536.3,635.8 538.7,635 541.1,634.1 543.4,632.6 545.8,630.9 548.1,629.4 550.5,628.4 552.9,627.9 555.2,627.6 557.6,627.4 559.9,627.2 562.3,626.8 564.6,626.2 567,625.5 569.4,624.7 571.7,624 574.1,623.3 576.4,622.6 578.8,622 581.2,621.4 583.5,620.8 585.9,620.2 588.2,619.7 590.6,619.1 592.9,618.6 595.3,618.1 597.7,617.4 600,616.5 602.4,615.3 604.7,614 607.1,612.7 609.5,611.5 611.8,610.5 614.2,609.6 616.5,608.7 618.9,607.9 621.2,607.3 623.6,606.7 626,606.2 628.3,605.7 630.7,605.4 633,605 635.4,604.7 637.8,604.3 640.1,603.7 642.5,602.9 644.8,602.1 647.2,601.2 649.5,600.3 651.9,599.5 654.3,598.6 656.6,597.9 659,597.1 661.3,596.4 663.7,595.7 666.1,595.1 668.4,594.4 670.8,593.8 673.1,593.2 675.5,592.5 677.8,591.9 678.9,591.6" fill="none" stroke="#ff0000" stroke-width="1.1" stroke-dasharray="4.4 1.1 2.2 1.2" stroke-linejoin="round"/>
<polyline points="440,709.2 442.3,707.9 444.7,706.7 447.1,705.5 449.4,704.3 451.8,703.2 454.1,702.1 456.5,701.1 458.8,700.2 461.2,699.2 463.6,698.4 465.9,697.5 468.3,696.7 470.6,695.9 473,695.1 475.4,694.4 477.7,693.7 480.1,693 482.4,692.3 484.8,691.6 487.1,690.9 489.5,690.3 491.9,689.7 494.2,689.1 496.6,688.5 498.9,688 501.3,687.5 503.7,687 506,686.5 508.4,686 510.7,685.6 513.1,685.1 515.4,684.6 517.8,684.1 520.2,683.7 522.5,683.2 524.9,682.7 527.2,682.2 529.6,681.7 532,681.2 534.3,680.7 536.7,680.1 539,679.6 541.4,679 543.7,678.3 546.1,677.7 548.5,677 550.8,676.3 553.2,675.6 555.5,675 557.9,674.3 560.3,673.8 562.6,673.2 565,672.7 567.3,672.3 569.7,671.9 572,671.5 574.4,671.1 576.8,670.6 579.1,670.2 581.5,669.8 583.8,669.4 586.2,668.9 588.6,668.4 590.9,668 593.3,667.5 595.6,667 598,666.6 600.3,666.1 602.7,665.6 605.1,665.2 607.4,664.7 609.8,664.3 612.1,663.8 614.5,663.4 616.9,663 619.2,662.5 621.6,662.1 623.9,661.7 626.3,661.2 628.6,660.8 631,660.3 633.4,659.8 635.7,659.3 638.1,658.8 640.4,658.3 642.8,657.7 645.2,657.2 647.5,656.6 649.9,656 652.2,655.5 654.6,654.9 656.9,654.3 659.3,653.7 661.7,653.1 664,652.4 666.4,651.8 668.7,651.2 671.1,650.6 673.5,649.9 675.8,649.3 678.2,648.7 678.3,648.4" fill="none" stroke="#edb120" stroke-width="1.2" stroke-dasharray="4.5 4.4" stroke-linejoin="round"/>
<polyline points="396.4,709.2 398.8,709.2 401.1,709.2 403.5,709.2 405.8,709.2 408.2,709.2 410.5,709.2 412.9,709.2 415.3,709.2 417.6,709.2 420,709.2 422.3,709.2 424.7,709.2 427.1,709.2 429.4,709.2 431.8,709.2 434.1,709.2 436.5,709.2 438.8,709.2 441.2,709.2 443.6,709.2 445.9,709.2 448.3,709.2 450.6,709.2 453,709.2 455.4,709.2 457.7,709.2 460.1,709.2 462.4,709.2 464.8,708.2 467.1,707.7 469.5,707.2 471.9,706.5 474.2,705.8 476.6,705 478.9,704.2 481.3,703.3 483.7,702.5 486,701.7 488.4,700.8 490.7,700 493.1,699.3 495.4,698.5 497.8,697.8 500.2,697.2 502.5,696.5 504.9,695.8 507.2,695.2 509.6,694.6 512,694 514.3,693.4 516.7,692.8 519,692.2 521.4,691.6 523.8,691.1 526.1,690.5 528.5,690 530.8,689.5 533.2,689 535.5,688.5 537.9,688 540.3,687.5 542.6,687 545,686.5 547.3,685.9 549.7,685.4 552,684.9 554.4,684.3 556.8,683.8 559.1,683.2 561.5,682.7 563.8,682.2 566.2,681.7 568.6,681.2 570.9,680.7 573.3,680.2 575.6,679.7 578,679.2 580.3,678.6 582.7,678.1 585.1,677.5 587.4,676.9 589.8,676.4 592.1,675.8 594.5,675.3 596.9,674.8 599.2,674.3 601.6,673.8 603.9,673.3 606.3,672.8 608.6,672.3 611,671.8 613.4,671.4 615.7,670.9 618.1,670.4 620.4,670 622.8,669.5 625.2,669 627.5,668.5 629.9,668.1 632.2,667.6 634.6,667.1 637,666.6 639.3,666.2 641.7,665.7 644,665.2 646.4,664.6 648.7,664.1 651.1,663.6 653.5,663 655.8,662.5 658.2,661.9 660.5,661.3 662.9,660.8 665.2,660.2 667.6,659.7 670,659.1 672.3,658.6 674.7,658.1 677,657.6 678.3,657.2" fill="none" stroke="#40c828" stroke-width="1.9" stroke-dasharray="1.9 1.37" stroke-linejoin="round"/>
<polyline points="396.4,709.2 398.8,709.2 401.1,709.2 403.5,709.2 405.8,709.2 408.2,709.2 410.5,709.2 412.9,709.2 415.3,709.2 417.6,709.2 420,709.2 422.3,709.2 424.7,709.2 427.1,709.2 429.4,709.2 431.8,709.2 434.1,709.2 436.5,709.2 438.8,709.2 441.2,709.2 443.6,709.2 445.9,709.2 448.3,709.2 450.6,709.2 453,709.2 455.4,709.2 457.7,709.2 460.1,709.2 462.4,709.2 464.8,709.2 467.1,709.2 469.5,709.2 471.9,709.2 474.2,709.2 476.6,708.7 478.9,708.5 481.3,708.3 483.7,708 486,707.7 488.4,707.4 490.7,707.1 493.1,706.8 495.4,706.5 497.8,706.2 500.2,705.8 502.5,705.5 504.9,705.2 507.2,704.9 509.6,704.5 512,704.2 514.3,703.8 516.7,703.4 519,703 521.4,702.6 523.8,702.2 526.1,701.7 528.5,701.3 530.8,700.8 533.2,700.3 535.5,699.9 537.9,699.4 540.3,699 542.6,698.6 545,698.2 547.3,697.8 549.7,697.4 552,697.1 554.4,696.7 556.8,696.4 559.1,696 561.5,695.6 563.8,695.2 566.2,694.8 568.6,694.3 570.9,693.8 573.3,693.4 575.6,692.9 578,692.4 580.3,691.9 582.7,691.4 585.1,690.9 587.4,690.4 589.8,689.9 592.1,689.4 594.5,688.9 596.9,688.4 599.2,687.9 601.6,687.4 603.9,686.9 606.3,686.4 608.6,686 611,685.5 613.4,685 615.7,684.6 618.1,684.1 620.4,683.6 622.8,683.1 625.2,682.7 627.5,682.2 629.9,681.7 632.2,681.3 634.6,680.8 637,680.3 639.3,679.9 641.7,679.4 644,678.9 646.4,678.4 648.7,678 651.1,677.5 653.5,677 655.8,676.6 658.2,676.1 660.5,675.6 662.9,675.2 665.2,674.8 667.6,674.3 670,673.9 672.3,673.5 674.7,673.1 677,672.8 678.3,672.4" fill="none" stroke="#0000ff" stroke-width="1.3" stroke-linejoin="round"/>
</g>
<rect x="396.4" y="512.4" width="283" height="196.8" fill="none" stroke="#4a4a4a" stroke-width="0.6"/>
<path d="M396.4 709.2v-3.3M396.4 512.4v3.3M420 709.2v-3.3M420 512.4v3.3M443.6 709.2v-3.3M443.6 512.4v3.3M467.1 709.2v-3.3M467.1 512.4v3.3M490.7 709.2v-3.3M490.7 512.4v3.3M514.3 709.2v-3.3M514.3 512.4v3.3M537.9 709.2v-3.3M537.9 512.4v3.3M561.5 709.2v-3.3M561.5 512.4v3.3M585.1 709.2v-3.3M585.1 512.4v3.3M608.6 709.2v-3.3M608.6 512.4v3.3M632.2 709.2v-3.3M632.2 512.4v3.3M655.8 709.2v-3.3M655.8 512.4v3.3M679.4 709.2v-3.3M679.4 512.4v3.3M396.4 709.2h3.3M679.4 709.2h-3.3M396.4 691.3h3.3M679.4 691.3h-3.3M396.4 673.4h3.3M679.4 673.4h-3.3M396.4 655.5h3.3M679.4 655.5h-3.3M396.4 637.6h3.3M679.4 637.6h-3.3M396.4 619.7h3.3M679.4 619.7h-3.3M396.4 601.9h3.3M679.4 601.9h-3.3M396.4 584h3.3M679.4 584h-3.3M396.4 566.1h3.3M679.4 566.1h-3.3M396.4 548.2h3.3M679.4 548.2h-3.3M396.4 530.3h3.3M679.4 530.3h-3.3M396.4 512.4h3.3M679.4 512.4h-3.3" stroke="#4a4a4a" stroke-width="0.75" fill="none"/>
<g font-size="11" fill="#262626" text-anchor="middle">
<text x="395.9" y="724.7">0</text>
<text x="419.5" y="724.7">5</text>
<text x="443.1" y="724.7">10</text>
<text x="466.6" y="724.7">15</text>
<text x="490.2" y="724.7">20</text>
<text x="513.8" y="724.7">25</text>
<text x="537.4" y="724.7">30</text>
<text x="561" y="724.7">35</text>
<text x="584.6" y="724.7">40</text>
<text x="608.1" y="724.7">45</text>
<text x="631.7" y="724.7">50</text>
<text x="655.3" y="724.7">55</text>
<text x="678.9" y="724.7">60</text>
</g>
<g font-size="11" fill="#262626" text-anchor="end">
<text x="391.1" y="714">0</text>
<text x="391.1" y="696.1">10</text>
<text x="391.1" y="678.2">20</text>
<text x="391.1" y="660.3">30</text>
<text x="391.1" y="642.4">40</text>
<text x="391.1" y="624.5">50</text>
<text x="391.1" y="606.7">60</text>
<text x="391.1" y="588.8">70</text>
<text x="391.1" y="570.9">80</text>
<text x="391.1" y="553">90</text>
<text x="391.1" y="535.1">100</text>
<text x="391.1" y="517.2">110</text>
</g>
<text x="537.9" y="740.3" font-size="12.1" fill="#262626" text-anchor="middle">Time [min]</text>
<text transform="translate(368,610.8) rotate(-90)" font-size="12.1" fill="#262626" text-anchor="middle">Char Depth (300°C Isotherm) [mm]</text>
<text x="645.1" y="533.7" font-size="10" font-weight="bold" fill="#262626">(b)(iii)</text>
<rect x="403.8" y="519.5" width="208.6" height="71.5" fill="#fff" stroke="#4a4a4a" stroke-width="0.6"/>
<path d="M403.8 536.8H612.4" stroke="#4a4a4a" stroke-width="0.6"/>
<text x="508.1" y="534.2" font-size="9.9" font-weight="bold" fill="#262626" text-anchor="middle">Heating Condition: 75 kW/m<tspan font-size="7.7" dx="0.9" dy="-5.6">2</tspan></text>
<path d="M406.2 544.5H433.9" stroke="#ff0000" stroke-width="1.1" stroke-dasharray="4.4 1.1 2.2 1.2"/>
<text x="435.8" y="549.2" font-size="10" fill="#262626">Bare Timber</text>
<path d="M406.2 557.5H433.9" stroke="#edb120" stroke-width="1.2" stroke-dasharray="4.5 4.4"/>
<text x="435.8" y="562.3" font-size="10" fill="#262626">Coating B - Low DFT (1.08 ± 0.10 mm)</text>
<path d="M406.2 570.5H433.9" stroke="#40c828" stroke-width="1.9" stroke-dasharray="1.9 1.37"/>
<text x="435.8" y="575.4" font-size="10" fill="#262626">Coating B - Med DFT (1.72 ± 0.12 mm)</text>
<path d="M406.2 583.5H433.9" stroke="#0000ff" stroke-width="1.3"/>
<text x="435.8" y="588.3" font-size="10" fill="#262626">Coating B - High DFT (2.25 ± 0.15 mm)</text>
</svg>
</body></html>
